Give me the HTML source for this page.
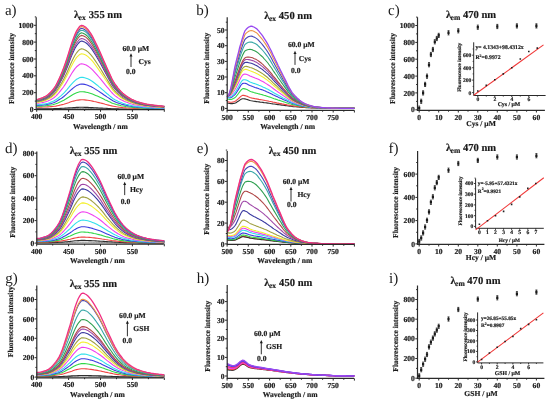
<!DOCTYPE html>
<html><head><meta charset="utf-8"><style>
html,body{margin:0;padding:0;background:#fff;width:550px;height:401px;overflow:hidden}
svg{display:block;will-change:transform}
text{text-rendering:geometricPrecision;font-family:"Liberation Serif", serif;fill:#1a1a1a;stroke:#1a1a1a;stroke-width:0.18px}
text.l{stroke:none}
</style></head><body>
<svg width="550" height="401" viewBox="0 0 550 401">
<rect width="550" height="401" fill="#fff"/>
<polyline points="36.7,109.1 38.3,109.1 39.9,109.1 41.5,109.1 43.1,109.1 44.7,109.1 46.3,109.1 47.9,109.1 49.5,109.1 51.1,109.1 52.7,109.1 54.2,109.1 55.8,109 57.4,109 59,109 60.6,108.9 62.2,108.9 63.8,108.9 65.4,108.8 67,108.8 68.6,108.7 70.2,108.6 71.8,108.6 73.4,108.5 75,108.5 76.6,108.5 78.2,108.4 79.8,108.4 81.4,108.4 83,108.4 84.6,108.4 86.1,108.4 87.7,108.5 89.3,108.5 90.9,108.5 92.5,108.6 94.1,108.6 95.7,108.6 97.3,108.7 98.9,108.7 100.5,108.8 102.1,108.8 103.7,108.9 105.3,108.9 106.9,109 108.5,109 110.1,109 111.7,109.1 113.3,109.1 114.9,109.2 116.5,109.2 118,109.2 119.6,109.2 121.2,109.3 122.8,109.3 124.4,109.3 126,109.3 127.6,109.3 129.2,109.3 130.8,109.4 132.4,109.4 134,109.4 135.6,109.4 137.2,109.4 138.8,109.4 140.4,109.4 142,109.4 143.6,109.4 145.2,109.4 146.8,109.4 148.4,109.4 149.9,109.4 151.5,109.4 153.1,109.4 154.7,109.4 156.3,109.4 157.9,109.4 159.5,109.4 161.1,109.4 162.7,109.5 164.3,109.5" fill="none" stroke="#707070" stroke-width="0.8" stroke-linejoin="round"/>
<polyline points="36.7,108.7 38.3,108.7 39.9,108.7 41.5,108.7 43.1,108.7 44.7,108.7 46.3,108.7 47.9,108.7 49.5,108.7 51.1,108.7 52.7,108.7 54.2,108.6 55.8,108.6 57.4,108.5 59,108.5 60.6,108.4 62.2,108.3 63.8,108.2 65.4,108.1 67,108 68.6,107.9 70.2,107.8 71.8,107.7 73.4,107.6 75,107.5 76.6,107.4 78.2,107.4 79.8,107.3 81.4,107.3 83,107.3 84.6,107.4 86.1,107.4 87.7,107.4 89.3,107.5 90.9,107.6 92.5,107.6 94.1,107.7 95.7,107.8 97.3,107.9 98.9,108 100.5,108.1 102.1,108.1 103.7,108.2 105.3,108.3 106.9,108.4 108.5,108.5 110.1,108.6 111.7,108.7 113.3,108.8 114.9,108.8 116.5,108.9 118,108.9 119.6,109 121.2,109 122.8,109.1 124.4,109.1 126,109.1 127.6,109.2 129.2,109.2 130.8,109.2 132.4,109.2 134,109.2 135.6,109.3 137.2,109.3 138.8,109.3 140.4,109.3 142,109.3 143.6,109.3 145.2,109.3 146.8,109.3 148.4,109.4 149.9,109.4 151.5,109.4 153.1,109.4 154.7,109.4 156.3,109.4 157.9,109.4 159.5,109.4 161.1,109.4 162.7,109.4 164.3,109.4" fill="none" stroke="#303030" stroke-width="1.1" stroke-linejoin="round"/>
<polyline points="36.7,107 38.3,107.1 39.9,107.1 41.5,107.1 43.1,107 44.7,107 46.3,107 47.9,106.9 49.5,106.8 51.1,106.6 52.7,106.5 54.2,106.3 55.8,106.1 57.4,105.7 59,105.4 60.6,105 62.2,104.6 63.8,104.2 65.4,103.7 67,103.2 68.6,102.7 70.2,102.1 71.8,101.6 73.4,101.1 75,100.7 76.6,100.3 78.2,100.1 79.8,99.9 81.4,99.8 83,99.8 84.6,99.9 86.1,100.1 87.7,100.3 89.3,100.5 90.9,100.8 92.5,101.1 94.1,101.5 95.7,101.8 97.3,102.2 98.9,102.6 100.5,103 102.1,103.4 103.7,103.8 105.3,104.3 106.9,104.7 108.5,105.1 110.1,105.5 111.7,105.9 113.3,106.2 114.9,106.5 116.5,106.8 118,107 119.6,107.2 121.2,107.4 122.8,107.6 124.4,107.7 126,107.9 127.6,108 129.2,108.1 130.8,108.2 132.4,108.3 134,108.4 135.6,108.5 137.2,108.6 138.8,108.6 140.4,108.7 142,108.7 143.6,108.8 145.2,108.8 146.8,108.8 148.4,108.9 149.9,108.9 151.5,108.9 153.1,109 154.7,109 156.3,109 157.9,109 159.5,109.1 161.1,109.1 162.7,109.1 164.3,109.1" fill="none" stroke="#F04444" stroke-width="1.1" stroke-linejoin="round"/>
<polyline points="36.7,106.2 38.3,106.2 39.9,106.2 41.5,106.1 43.1,106 44.7,105.9 46.3,105.7 47.9,105.5 49.5,105.3 51.1,105 52.7,104.7 54.2,104.3 55.8,103.8 57.4,103.2 59,102.5 60.6,101.8 62.2,101 63.8,100.2 65.4,99.3 67,98.3 68.6,97.3 70.2,96.2 71.8,95.2 73.4,94.3 75,93.4 76.6,92.8 78.2,92.3 79.8,91.8 81.4,91.7 83,91.7 84.6,91.9 86.1,92.2 87.7,92.5 89.3,93 90.9,93.5 92.5,94.1 94.1,94.7 95.7,95.4 97.3,96.1 98.9,96.8 100.5,97.6 102.1,98.3 103.7,99.1 105.3,99.9 106.9,100.6 108.5,101.4 110.1,102.1 111.7,102.9 113.3,103.5 114.9,104 116.5,104.5 118,104.9 119.6,105.3 121.2,105.7 122.8,106 124.4,106.3 126,106.6 127.6,106.8 129.2,107 130.8,107.2 132.4,107.4 134,107.5 135.6,107.7 137.2,107.8 138.8,107.9 140.4,108 142,108.1 143.6,108.2 145.2,108.3 146.8,108.3 148.4,108.4 149.9,108.5 151.5,108.5 153.1,108.5 154.7,108.6 156.3,108.6 157.9,108.7 159.5,108.7 161.1,108.7 162.7,108.8 164.3,108.8" fill="none" stroke="#30D848" stroke-width="1.1" stroke-linejoin="round"/>
<polyline points="36.7,105.4 38.3,105.4 39.9,105.3 41.5,105.2 43.1,105 44.7,104.8 46.3,104.6 47.9,104.3 49.5,103.9 51.1,103.5 52.7,103 54.2,102.4 55.8,101.7 57.4,100.8 59,99.8 60.6,98.8 62.2,97.7 63.8,96.5 65.4,95.1 67,93.7 68.6,92.2 70.2,90.7 71.8,89.2 73.4,87.9 75,86.6 76.6,85.6 78.2,84.9 79.8,84.3 81.4,84 83,84.1 84.6,84.4 86.1,84.8 87.7,85.3 89.3,85.9 90.9,86.6 92.5,87.4 94.1,88.4 95.7,89.4 97.3,90.4 98.9,91.4 100.5,92.5 102.1,93.5 103.7,94.7 105.3,95.8 106.9,96.9 108.5,97.9 110.1,99 111.7,100 113.3,101 114.9,101.7 116.5,102.4 118,103 119.6,103.6 121.2,104.1 122.8,104.5 124.4,104.9 126,105.3 127.6,105.6 129.2,106 130.8,106.2 132.4,106.5 134,106.7 135.6,106.9 137.2,107.1 138.8,107.3 140.4,107.4 142,107.5 143.6,107.7 145.2,107.8 146.8,107.9 148.4,107.9 149.9,108 151.5,108.1 153.1,108.2 154.7,108.2 156.3,108.3 157.9,108.3 159.5,108.4 161.1,108.4 162.7,108.5 164.3,108.5" fill="none" stroke="#3C3CE0" stroke-width="1.1" stroke-linejoin="round"/>
<polyline points="36.7,104.7 38.3,104.7 39.9,104.5 41.5,104.4 43.1,104.1 44.7,103.9 46.3,103.6 47.9,103.2 49.5,102.7 51.1,102.1 52.7,101.5 54.2,100.8 55.8,99.8 57.4,98.7 59,97.4 60.6,96.1 62.2,94.6 63.8,93.1 65.4,91.4 67,89.6 68.6,87.7 70.2,85.7 71.8,83.9 73.4,82.2 75,80.6 76.6,79.3 78.2,78.4 79.8,77.6 81.4,77.2 83,77.4 84.6,77.7 86.1,78.2 87.7,78.8 89.3,79.6 90.9,80.5 92.5,81.5 94.1,82.7 95.7,84 97.3,85.2 98.9,86.6 100.5,87.9 102.1,89.3 103.7,90.7 105.3,92.1 106.9,93.5 108.5,94.8 110.1,96.2 111.7,97.5 113.3,98.7 114.9,99.7 116.5,100.5 118,101.3 119.6,102 121.2,102.6 122.8,103.2 124.4,103.7 126,104.2 127.6,104.6 129.2,105 130.8,105.4 132.4,105.7 134,106 135.6,106.3 137.2,106.5 138.8,106.7 140.4,106.9 142,107 143.6,107.2 145.2,107.3 146.8,107.4 148.4,107.5 149.9,107.6 151.5,107.7 153.1,107.8 154.7,107.9 156.3,108 157.9,108 159.5,108.1 161.1,108.1 162.7,108.2 164.3,108.3" fill="none" stroke="#30E0EC" stroke-width="1.1" stroke-linejoin="round"/>
<polyline points="36.7,103.3 38.3,103.2 39.9,103 41.5,102.8 43.1,102.4 44.7,102 46.3,101.6 47.9,101 49.5,100.3 51.1,99.5 52.7,98.5 54.2,97.5 55.8,96.1 57.4,94.5 59,92.7 60.6,90.7 62.2,88.7 63.8,86.5 65.4,84.1 67,81.5 68.6,78.8 70.2,76 71.8,73.3 73.4,70.9 75,68.6 76.6,66.8 78.2,65.5 79.8,64.3 81.4,63.8 83,64 84.6,64.5 86.1,65.1 87.7,66 89.3,67.1 90.9,68.4 92.5,69.9 94.1,71.6 95.7,73.3 97.3,75.1 98.9,77 100.5,78.9 102.1,80.9 103.7,82.9 105.3,84.9 106.9,86.8 108.5,88.7 110.1,90.7 111.7,92.5 113.3,94.2 114.9,95.6 116.5,96.8 118,97.9 119.6,98.9 121.2,99.8 122.8,100.6 124.4,101.4 126,102 127.6,102.6 129.2,103.2 130.8,103.7 132.4,104.2 134,104.6 135.6,104.9 137.2,105.2 138.8,105.5 140.4,105.8 142,106 143.6,106.2 145.2,106.4 146.8,106.6 148.4,106.7 149.9,106.9 151.5,107 153.1,107.1 154.7,107.2 156.3,107.3 157.9,107.4 159.5,107.5 161.1,107.6 162.7,107.7 164.3,107.8" fill="none" stroke="#F040F0" stroke-width="1.1" stroke-linejoin="round"/>
<polyline points="36.7,102.3 38.3,102.2 39.9,101.9 41.5,101.5 43.1,101.1 44.7,100.7 46.3,100.1 47.9,99.3 49.5,98.5 51.1,97.5 52.7,96.3 54.2,95 55.8,93.3 57.4,91.3 59,89.1 60.6,86.7 62.2,84.2 63.8,81.6 65.4,78.6 67,75.5 68.6,72.2 70.2,68.6 71.8,65.4 73.4,62.4 75,59.7 76.6,57.4 78.2,55.8 79.8,54.4 81.4,53.8 83,54 84.6,54.6 86.1,55.3 87.7,56.4 89.3,57.8 90.9,59.4 92.5,61.2 94.1,63.2 95.7,65.4 97.3,67.6 98.9,69.9 100.5,72.2 102.1,74.6 103.7,77 105.3,79.5 106.9,81.8 108.5,84.1 110.1,86.5 111.7,88.8 113.3,90.8 114.9,92.5 116.5,94 118,95.3 119.6,96.5 121.2,97.7 122.8,98.7 124.4,99.6 126,100.4 127.6,101.1 129.2,101.8 130.8,102.4 132.4,103 134,103.5 135.6,103.9 137.2,104.3 138.8,104.7 140.4,105 142,105.3 143.6,105.5 145.2,105.8 146.8,106 148.4,106.1 149.9,106.3 151.5,106.5 153.1,106.6 154.7,106.7 156.3,106.9 157.9,107 159.5,107.1 161.1,107.2 162.7,107.3 164.3,107.4" fill="none" stroke="#F4F030" stroke-width="1.1" stroke-linejoin="round"/>
<polyline points="36.7,101.8 38.3,101.6 39.9,101.3 41.5,100.9 43.1,100.5 44.7,100 46.3,99.3 47.9,98.5 49.5,97.6 51.1,96.5 52.7,95.2 54.2,93.8 55.8,92 57.4,89.8 59,87.3 60.6,84.7 62.2,82 63.8,79.1 65.4,75.8 67,72.4 68.6,68.8 70.2,65 71.8,61.5 73.4,58.2 75,55.2 76.6,52.8 78.2,50.9 79.8,49.4 81.4,48.8 83,49 84.6,49.7 86.1,50.5 87.7,51.6 89.3,53.1 90.9,54.8 92.5,56.8 94.1,59.1 95.7,61.4 97.3,63.8 98.9,66.3 100.5,68.8 102.1,71.4 103.7,74.1 105.3,76.7 106.9,79.3 108.5,81.9 110.1,84.4 111.7,86.9 113.3,89.2 114.9,91 116.5,92.6 118,94 119.6,95.4 121.2,96.6 122.8,97.7 124.4,98.7 126,99.6 127.6,100.4 129.2,101.1 130.8,101.8 132.4,102.4 134,103 135.6,103.4 137.2,103.9 138.8,104.2 140.4,104.6 142,104.9 143.6,105.2 145.2,105.4 146.8,105.6 148.4,105.8 149.9,106 151.5,106.2 153.1,106.3 154.7,106.5 156.3,106.6 157.9,106.7 159.5,106.9 161.1,107 162.7,107.1 164.3,107.2" fill="none" stroke="#A0A040" stroke-width="1.1" stroke-linejoin="round"/>
<polyline points="36.7,101 38.3,100.8 39.9,100.5 41.5,100 43.1,99.5 44.7,98.9 46.3,98.2 47.9,97.2 49.5,96.2 51.1,94.9 52.7,93.5 54.2,91.9 55.8,89.8 57.4,87.3 59,84.6 60.6,81.6 62.2,78.6 63.8,75.3 65.4,71.6 67,67.8 68.6,63.7 70.2,59.4 71.8,55.4 73.4,51.7 75,48.3 76.6,45.6 78.2,43.5 79.8,41.8 81.4,41 83,41.4 84.6,42.1 86.1,43 87.7,44.3 89.3,46 90.9,47.9 92.5,50.1 94.1,52.7 95.7,55.3 97.3,58 98.9,60.8 100.5,63.6 102.1,66.6 103.7,69.6 105.3,72.6 106.9,75.5 108.5,78.4 110.1,81.3 111.7,84.1 113.3,86.6 114.9,88.6 116.5,90.4 118,92.1 119.6,93.6 121.2,95 122.8,96.2 124.4,97.3 126,98.3 127.6,99.2 129.2,100.1 130.8,100.8 132.4,101.5 134,102.1 135.6,102.7 137.2,103.1 138.8,103.6 140.4,103.9 142,104.3 143.6,104.6 145.2,104.9 146.8,105.2 148.4,105.4 149.9,105.6 151.5,105.8 153.1,105.9 154.7,106.1 156.3,106.3 157.9,106.4 159.5,106.5 161.1,106.7 162.7,106.8 164.3,106.9" fill="none" stroke="#3A3AA0" stroke-width="1.1" stroke-linejoin="round"/>
<polyline points="36.7,100.7 38.3,100.5 39.9,100.2 41.5,99.7 43.1,99.1 44.7,98.5 46.3,97.8 47.9,96.8 49.5,95.7 51.1,94.4 52.7,92.9 54.2,91.3 55.8,89.1 57.4,86.5 59,83.7 60.6,80.6 62.2,77.4 63.8,74 65.4,70.2 67,66.2 68.6,62 70.2,57.5 71.8,53.3 73.4,49.5 75,46 76.6,43.1 78.2,41 79.8,39.2 81.4,38.5 83,38.8 84.6,39.5 86.1,40.4 87.7,41.8 89.3,43.6 90.9,45.6 92.5,47.9 94.1,50.5 95.7,53.2 97.3,56 98.9,58.9 100.5,61.9 102.1,64.9 103.7,68.1 105.3,71.2 106.9,74.2 108.5,77.2 110.1,80.2 111.7,83.1 113.3,85.7 114.9,87.9 116.5,89.7 118,91.4 119.6,93 121.2,94.4 122.8,95.7 124.4,96.9 126,97.9 127.6,98.8 129.2,99.7 130.8,100.5 132.4,101.2 134,101.9 135.6,102.4 137.2,102.9 138.8,103.3 140.4,103.7 142,104.1 143.6,104.4 145.2,104.7 146.8,105 148.4,105.2 149.9,105.4 151.5,105.6 153.1,105.8 154.7,106 156.3,106.1 157.9,106.3 159.5,106.4 161.1,106.5 162.7,106.7 164.3,106.8" fill="none" stroke="#A048A8" stroke-width="1.1" stroke-linejoin="round"/>
<polyline points="36.7,100.4 38.3,100.2 39.9,99.8 41.5,99.3 43.1,98.8 44.7,98.1 46.3,97.3 47.9,96.3 49.5,95.1 51.1,93.8 52.7,92.3 54.2,90.5 55.8,88.2 57.4,85.6 59,82.6 60.6,79.4 62.2,76.1 63.8,72.5 65.4,68.5 67,64.3 68.6,59.9 70.2,55.2 71.8,50.9 73.4,46.9 75,43.2 76.6,40.3 78.2,38 79.8,36.2 81.4,35.4 83,35.7 84.6,36.5 86.1,37.4 87.7,38.8 89.3,40.7 90.9,42.8 92.5,45.2 94.1,47.9 95.7,50.8 97.3,53.7 98.9,56.7 100.5,59.8 102.1,63 103.7,66.3 105.3,69.5 106.9,72.7 108.5,75.8 110.1,78.9 111.7,81.9 113.3,84.7 114.9,86.9 116.5,88.8 118,90.6 119.6,92.3 121.2,93.8 122.8,95.1 124.4,96.3 126,97.4 127.6,98.4 129.2,99.3 130.8,100.1 132.4,100.9 134,101.5 135.6,102.1 137.2,102.6 138.8,103.1 140.4,103.5 142,103.9 143.6,104.2 145.2,104.5 146.8,104.8 148.4,105 149.9,105.3 151.5,105.5 153.1,105.7 154.7,105.8 156.3,106 157.9,106.1 159.5,106.3 161.1,106.4 162.7,106.6 164.3,106.7" fill="none" stroke="#B04848" stroke-width="1.1" stroke-linejoin="round"/>
<polyline points="36.7,100.2 38.3,99.9 39.9,99.6 41.5,99 43.1,98.4 44.7,97.8 46.3,96.9 47.9,95.9 49.5,94.7 51.1,93.3 52.7,91.7 54.2,89.9 55.8,87.6 57.4,84.8 59,81.7 60.6,78.4 62.2,75 63.8,71.3 65.4,67.1 67,62.8 68.6,58.2 70.2,53.4 71.8,48.9 73.4,44.8 75,41 76.6,37.9 78.2,35.6 79.8,33.7 81.4,32.8 83,33.2 84.6,34 86.1,35 87.7,36.4 89.3,38.4 90.9,40.5 92.5,43 94.1,45.8 95.7,48.8 97.3,51.8 98.9,54.9 100.5,58.1 102.1,61.4 103.7,64.8 105.3,68.2 106.9,71.4 108.5,74.6 110.1,77.9 111.7,81 113.3,83.8 114.9,86.1 116.5,88.1 118,90 119.6,91.7 121.2,93.2 122.8,94.6 124.4,95.9 126,97 127.6,98 129.2,98.9 130.8,99.8 132.4,100.6 134,101.3 135.6,101.9 137.2,102.4 138.8,102.9 140.4,103.3 142,103.7 143.6,104 145.2,104.4 146.8,104.6 148.4,104.9 149.9,105.1 151.5,105.3 153.1,105.5 154.7,105.7 156.3,105.9 157.9,106 159.5,106.2 161.1,106.3 162.7,106.5 164.3,106.6" fill="none" stroke="#30A050" stroke-width="1.1" stroke-linejoin="round"/>
<polyline points="36.7,99.9 38.3,99.7 39.9,99.3 41.5,98.7 43.1,98.1 44.7,97.4 46.3,96.5 47.9,95.5 49.5,94.2 51.1,92.7 52.7,91.1 54.2,89.2 55.8,86.8 57.4,83.9 59,80.7 60.6,77.3 62.2,73.8 63.8,69.9 65.4,65.7 67,61.2 68.6,56.5 70.2,51.4 71.8,46.8 73.4,42.6 75,38.6 76.6,35.4 78.2,33 79.8,31 81.4,30.2 83,30.5 84.6,31.3 86.1,32.4 87.7,33.9 89.3,35.9 90.9,38.1 92.5,40.7 94.1,43.6 95.7,46.6 97.3,49.8 98.9,53 100.5,56.3 102.1,59.7 103.7,63.2 105.3,66.7 106.9,70.1 108.5,73.4 110.1,76.8 111.7,80 113.3,82.9 114.9,85.3 116.5,87.4 118,89.3 119.6,91.1 121.2,92.7 122.8,94.1 124.4,95.4 126,96.6 127.6,97.6 129.2,98.6 130.8,99.4 132.4,100.2 134,101 135.6,101.6 137.2,102.1 138.8,102.6 140.4,103.1 142,103.5 143.6,103.8 145.2,104.2 146.8,104.5 148.4,104.7 149.9,105 151.5,105.2 153.1,105.4 154.7,105.6 156.3,105.7 157.9,105.9 159.5,106.1 161.1,106.2 162.7,106.4 164.3,106.5" fill="none" stroke="#3AA8A8" stroke-width="1.1" stroke-linejoin="round"/>
<polyline points="36.7,99.7 38.3,99.5 39.9,99.1 41.5,98.5 43.1,97.8 44.7,97.1 46.3,96.3 47.9,95.2 49.5,93.9 51.1,92.4 52.7,90.7 54.2,88.8 55.8,86.3 57.4,83.4 59,80.1 60.6,76.6 62.2,72.9 63.8,69 65.4,64.7 67,60.1 68.6,55.2 70.2,50.1 71.8,45.4 73.4,41 75,36.9 76.6,33.7 78.2,31.3 79.8,29.2 81.4,28.3 83,28.7 84.6,29.5 86.1,30.6 87.7,32.1 89.3,34.2 90.9,36.4 92.5,39 94.1,42.1 95.7,45.2 97.3,48.4 98.9,51.7 100.5,55.1 102.1,58.6 103.7,62.1 105.3,65.7 106.9,69.2 108.5,72.6 110.1,76 111.7,79.3 113.3,82.3 114.9,84.8 116.5,86.9 118,88.8 119.6,90.6 121.2,92.3 122.8,93.8 124.4,95.1 126,96.3 127.6,97.3 129.2,98.3 130.8,99.2 132.4,100 134,100.8 135.6,101.4 137.2,102 138.8,102.5 140.4,102.9 142,103.3 143.6,103.7 145.2,104.1 146.8,104.4 148.4,104.6 149.9,104.9 151.5,105.1 153.1,105.3 154.7,105.5 156.3,105.7 157.9,105.8 159.5,106 161.1,106.1 162.7,106.3 164.3,106.4" fill="none" stroke="#4848B8" stroke-width="1.1" stroke-linejoin="round"/>
<polyline points="36.7,99.5 38.3,99.3 39.9,98.9 41.5,98.3 43.1,97.6 44.7,96.9 46.3,96 47.9,94.9 49.5,93.5 51.1,92 52.7,90.3 54.2,88.3 55.8,85.8 57.4,82.8 59,79.4 60.6,75.9 62.2,72.2 63.8,68.2 65.4,63.7 67,59 68.6,54.1 70.2,48.8 71.8,44 73.4,39.5 75,35.4 76.6,32 78.2,29.6 79.8,27.5 81.4,26.6 83,26.9 84.6,27.8 86.1,28.9 87.7,30.4 89.3,32.5 90.9,34.9 92.5,37.5 94.1,40.6 95.7,43.8 97.3,47.1 98.9,50.5 100.5,53.9 102.1,57.5 103.7,61.1 105.3,64.8 106.9,68.3 108.5,71.8 110.1,75.3 111.7,78.7 113.3,81.7 114.9,84.2 116.5,86.4 118,88.4 119.6,90.2 121.2,91.9 122.8,93.4 124.4,94.8 126,96 127.6,97.1 129.2,98.1 130.8,99 132.4,99.8 134,100.6 135.6,101.2 137.2,101.8 138.8,102.3 140.4,102.8 142,103.2 143.6,103.6 145.2,103.9 146.8,104.2 148.4,104.5 149.9,104.8 151.5,105 153.1,105.2 154.7,105.4 156.3,105.6 157.9,105.7 159.5,105.9 161.1,106.1 162.7,106.2 164.3,106.3" fill="none" stroke="#EC9448" stroke-width="1.1" stroke-linejoin="round"/>
<polyline points="36.7,99.4 38.3,99.1 39.9,98.7 41.5,98.1 43.1,97.5 44.7,96.7 46.3,95.8 47.9,94.7 49.5,93.3 51.1,91.8 52.7,90 54.2,88 55.8,85.5 57.4,82.4 59,79 60.6,75.4 62.2,71.6 63.8,67.5 65.4,63 67,58.3 68.6,53.2 70.2,47.9 71.8,43 73.4,38.5 75,34.2 76.6,30.9 78.2,28.3 79.8,26.2 81.4,25.3 83,25.7 84.6,26.5 86.1,27.6 87.7,29.2 89.3,31.4 90.9,33.7 92.5,36.4 94.1,39.6 95.7,42.8 97.3,46.1 98.9,49.6 100.5,53.1 102.1,56.7 103.7,60.4 105.3,64.1 106.9,67.7 108.5,71.2 110.1,74.8 111.7,78.2 113.3,81.3 114.9,83.9 116.5,86 118,88.1 119.6,89.9 121.2,91.6 122.8,93.2 124.4,94.6 126,95.8 127.6,96.9 129.2,97.9 130.8,98.8 132.4,99.7 134,100.4 135.6,101.1 137.2,101.7 138.8,102.2 140.4,102.7 142,103.1 143.6,103.5 145.2,103.9 146.8,104.2 148.4,104.4 149.9,104.7 151.5,104.9 153.1,105.1 154.7,105.3 156.3,105.5 157.9,105.7 159.5,105.8 161.1,106 162.7,106.2 164.3,106.3" fill="none" stroke="#F03084" stroke-width="1.3" stroke-linejoin="round"/>
<path d="M36.2,17.3V109.6H164.2" fill="none" stroke="#2a2a2a" stroke-width="1.2"/>
<path d="M36.7,109.6v2.2M68.6,109.6v2.2M100.5,109.6v2.2M132.4,109.6v2.2M164.3,109.6v2.2M52.7,109.6v1.4M84.6,109.6v1.4M116.5,109.6v1.4M148.4,109.6v1.4M36.2,109.5h-2.2M36.2,92.7h-2.2M36.2,75.8h-2.2M36.2,59h-2.2M36.2,42.1h-2.2M36.2,25.3h-2.2M36.2,101.1h-1.4M36.2,84.2h-1.4M36.2,67.4h-1.4M36.2,50.6h-1.4M36.2,33.7h-1.4M36.2,16.9h-1.4" fill="none" stroke="#2a2a2a" stroke-width="1"/>
<text x="36.7" y="119.2" font-size="7.6" text-anchor="middle" font-weight="bold">400</text>
<text x="68.6" y="119.2" font-size="7.6" text-anchor="middle" font-weight="bold">450</text>
<text x="100.5" y="119.2" font-size="7.6" text-anchor="middle" font-weight="bold">500</text>
<text x="132.4" y="119.2" font-size="7.6" text-anchor="middle" font-weight="bold">550</text>
<text x="33.6" y="112.1" font-size="7.6" text-anchor="end" font-weight="bold">0</text>
<text x="33.6" y="95.2" font-size="7.6" text-anchor="end" font-weight="bold">200</text>
<text x="33.6" y="78.4" font-size="7.6" text-anchor="end" font-weight="bold">400</text>
<text x="33.6" y="61.6" font-size="7.6" text-anchor="end" font-weight="bold">600</text>
<text x="33.6" y="44.7" font-size="7.6" text-anchor="end" font-weight="bold">800</text>
<text x="33.6" y="27.9" font-size="7.6" text-anchor="end" font-weight="bold">1000</text>
<text transform="translate(13.6,103.9) rotate(-90)" font-size="7.5" text-anchor="start" font-weight="bold">Fluorescence intensity</text>
<text x="100.4" y="128.6" font-size="7.6" text-anchor="middle" font-weight="bold">Wavelength / nm</text>
<text x="74" y="17.8" font-size="10.6" font-weight="bold">&#955;<tspan x="78.6" y="19.8" font-size="7.6">ex</tspan><tspan x="88.8" y="17.8">355 nm</tspan></text>
<text class="l" x="4.9" y="14.9" font-size="15" font-weight="normal">a)</text>
<text x="122.5" y="51.3" font-size="7.6" text-anchor="start" font-weight="bold">60.0 &#956;M</text>
<path d="M131,67V55.8" stroke="#1a1a1a" stroke-width="0.9"/>
<path d="M129.5,56.5L131,53.3L132.5,56.5Z" fill="#1a1a1a"/>
<text x="138.6" y="64" font-size="7.6" text-anchor="start" font-weight="bold">Cys</text>
<text x="126" y="73.6" font-size="7.6" text-anchor="start" font-weight="bold">0.0</text>
<polyline points="227.1,103 228.4,103.3 229.6,103.5 230.9,103.6 232.2,103.6 233.5,103.4 234.7,103.2 236,102.7 237.3,101.8 238.6,101 239.8,100.1 241.1,99.2 242.4,98.7 243.7,98.7 244.9,98.9 246.2,99.2 247.5,99.6 248.7,100.1 250,100.5 251.3,100.8 252.6,101 253.8,101.2 255.1,101.4 256.4,101.6 257.7,101.8 258.9,101.9 260.2,102.1 261.5,102.2 262.8,102.4 264,102.6 265.3,102.7 266.6,102.9 267.9,103.1 269.1,103.3 270.4,103.5 271.7,103.7 272.9,103.9 274.2,104 275.5,104.2 276.8,104.4 278,104.6 279.3,104.8 280.6,104.9 281.9,105.1 283.1,105.3 284.4,105.5 285.7,105.6 287,105.8 288.2,106 289.5,106.1 290.8,106.3 292,106.4 293.3,106.6 294.6,106.7 295.9,106.8 297.1,106.9 298.4,107 299.7,107.1 301,107.3 302.2,107.4 303.5,107.5 304.8,107.5 306.1,107.6 307.3,107.7 308.6,107.8 309.9,107.8 311.2,107.9 312.4,107.9 313.7,108 315,108 316.2,108 317.5,108.1 318.8,108.1 320.1,108.1 321.3,108.2 322.6,108.2 323.9,108.2 325.2,108.2 326.4,108.2 327.7,108.3 329,108.3 330.3,108.3 331.5,108.3 332.8,108.3 334.1,108.3 335.3,108.3 336.6,108.3 337.9,108.3 339.2,108.4 340.4,108.4 341.7,108.4 343,108.4 344.3,108.4 345.5,108.4 346.8,108.4 348.1,108.4 349.4,108.4 350.6,108.4 351.9,108.4 353.2,108.4 354.4,108.4" fill="none" stroke="#303030" stroke-width="1.1" stroke-linejoin="round"/>
<polyline points="227.1,101.6 228.4,101.9 229.6,102.1 230.9,102.2 232.2,102.1 233.5,101.8 234.7,101.4 236,100.7 237.3,99.6 238.6,98.5 239.8,97.3 241.1,96.2 242.4,95.4 243.7,95.4 244.9,95.6 246.2,96 247.5,96.4 248.7,97 250,97.5 251.3,97.9 252.6,98.2 253.8,98.4 255.1,98.7 256.4,98.9 257.7,99.1 258.9,99.4 260.2,99.6 261.5,99.8 262.8,100 264,100.2 265.3,100.5 266.6,100.7 267.9,101 269.1,101.3 270.4,101.5 271.7,101.8 272.9,102.1 274.2,102.3 275.5,102.6 276.8,102.9 278,103.1 279.3,103.4 280.6,103.6 281.9,103.9 283.1,104.1 284.4,104.4 285.7,104.6 287,104.9 288.2,105.1 289.5,105.3 290.8,105.6 292,105.8 293.3,105.9 294.6,106.1 295.9,106.3 297.1,106.4 298.4,106.6 299.7,106.7 301,106.9 302.2,107 303.5,107.1 304.8,107.3 306.1,107.4 307.3,107.5 308.6,107.6 309.9,107.7 311.2,107.7 312.4,107.8 313.7,107.8 315,107.9 316.2,107.9 317.5,108 318.8,108 320.1,108 321.3,108.1 322.6,108.1 323.9,108.1 325.2,108.2 326.4,108.2 327.7,108.2 329,108.2 330.3,108.3 331.5,108.3 332.8,108.3 334.1,108.3 335.3,108.3 336.6,108.3 337.9,108.3 339.2,108.3 340.4,108.4 341.7,108.4 343,108.4 344.3,108.4 345.5,108.4 346.8,108.4 348.1,108.4 349.4,108.4 350.6,108.4 351.9,108.4 353.2,108.4 354.4,108.4" fill="none" stroke="#F04444" stroke-width="1.1" stroke-linejoin="round"/>
<polyline points="227.1,98.9 228.4,99.3 229.6,99.5 230.9,99.4 232.2,99.1 233.5,98.5 234.7,97.8 236,96.7 237.3,95 238.6,93.3 239.8,91.6 241.1,90 242.4,88.8 243.7,88.6 244.9,88.9 246.2,89.3 247.5,89.8 248.7,90.6 250,91.2 251.3,91.7 252.6,92.1 253.8,92.5 255.1,92.9 256.4,93.2 257.7,93.5 258.9,93.9 260.2,94.2 261.5,94.5 262.8,94.9 264,95.3 265.3,95.6 266.6,96.1 267.9,96.5 269.1,96.9 270.4,97.3 271.7,97.8 272.9,98.2 274.2,98.7 275.5,99.1 276.8,99.5 278,100 279.3,100.4 280.6,100.8 281.9,101.2 283.1,101.6 284.4,102 285.7,102.5 287,102.9 288.2,103.3 289.5,103.7 290.8,104 292,104.4 293.3,104.7 294.6,104.9 295.9,105.2 297.1,105.4 298.4,105.7 299.7,105.9 301,106.1 302.2,106.4 303.5,106.6 304.8,106.7 306.1,106.9 307.3,107.1 308.6,107.2 309.9,107.3 311.2,107.4 312.4,107.5 313.7,107.6 315,107.7 316.2,107.7 317.5,107.8 318.8,107.8 320.1,107.9 321.3,107.9 322.6,108 323.9,108 325.2,108.1 326.4,108.1 327.7,108.2 329,108.2 330.3,108.2 331.5,108.2 332.8,108.3 334.1,108.3 335.3,108.3 336.6,108.3 337.9,108.3 339.2,108.3 340.4,108.3 341.7,108.3 343,108.4 344.3,108.4 345.5,108.4 346.8,108.4 348.1,108.4 349.4,108.4 350.6,108.4 351.9,108.4 353.2,108.4 354.4,108.4" fill="none" stroke="#30D848" stroke-width="1.1" stroke-linejoin="round"/>
<polyline points="227.1,97.4 228.4,97.8 229.6,97.9 230.9,97.6 232.2,96.9 233.5,95.9 234.7,94.8 236,93.3 237.3,91.2 238.6,89.1 239.8,87.1 241.1,85 242.4,83.6 243.7,83.2 244.9,83.3 246.2,83.6 247.5,84.2 248.7,84.9 250,85.6 251.3,86.1 252.6,86.6 253.8,87 255.1,87.5 256.4,87.9 257.7,88.3 258.9,88.8 260.2,89.2 261.5,89.6 262.8,90.1 264,90.6 265.3,91.1 266.6,91.7 267.9,92.2 269.1,92.8 270.4,93.4 271.7,94 272.9,94.7 274.2,95.3 275.5,95.9 276.8,96.5 278,97.1 279.3,97.7 280.6,98.2 281.9,98.8 283.1,99.4 284.4,100 285.7,100.5 287,101.1 288.2,101.7 289.5,102.2 290.8,102.7 292,103.2 293.3,103.6 294.6,104 295.9,104.3 297.1,104.7 298.4,105 299.7,105.3 301,105.6 302.2,105.9 303.5,106.1 304.8,106.3 306.1,106.5 307.3,106.7 308.6,106.9 309.9,107.1 311.2,107.2 312.4,107.3 313.7,107.4 315,107.5 316.2,107.6 317.5,107.7 318.8,107.7 320.1,107.8 321.3,107.9 322.6,107.9 323.9,108 325.2,108 326.4,108.1 327.7,108.1 329,108.1 330.3,108.2 331.5,108.2 332.8,108.2 334.1,108.2 335.3,108.3 336.6,108.3 337.9,108.3 339.2,108.3 340.4,108.3 341.7,108.3 343,108.3 344.3,108.4 345.5,108.4 346.8,108.4 348.1,108.4 349.4,108.4 350.6,108.4 351.9,108.4 353.2,108.4 354.4,108.4" fill="none" stroke="#3C3CE0" stroke-width="1.1" stroke-linejoin="round"/>
<polyline points="227.1,96.9 228.4,97.2 229.6,97.1 230.9,96.6 232.2,95.6 233.5,94.3 234.7,92.9 236,91.2 237.3,88.8 238.6,86.5 239.8,84.2 241.1,82 242.4,80.3 243.7,79.7 244.9,79.7 246.2,80 247.5,80.5 248.7,81.3 250,81.9 251.3,82.4 252.6,82.9 253.8,83.4 255.1,83.8 256.4,84.3 257.7,84.8 258.9,85.3 260.2,85.8 261.5,86.3 262.8,86.9 264,87.4 265.3,88 266.6,88.7 267.9,89.3 269.1,90 270.4,90.8 271.7,91.5 272.9,92.2 274.2,93 275.5,93.7 276.8,94.4 278,95.1 279.3,95.8 280.6,96.5 281.9,97.2 283.1,97.9 284.4,98.6 285.7,99.3 287,100 288.2,100.6 289.5,101.3 290.8,101.9 292,102.4 293.3,102.9 294.6,103.4 295.9,103.8 297.1,104.2 298.4,104.5 299.7,104.9 301,105.2 302.2,105.6 303.5,105.8 304.8,106.1 306.1,106.3 307.3,106.6 308.6,106.7 309.9,106.9 311.2,107.1 312.4,107.2 313.7,107.3 315,107.4 316.2,107.5 317.5,107.6 318.8,107.7 320.1,107.7 321.3,107.8 322.6,107.9 323.9,107.9 325.2,108 326.4,108 327.7,108.1 329,108.1 330.3,108.2 331.5,108.2 332.8,108.2 334.1,108.2 335.3,108.2 336.6,108.3 337.9,108.3 339.2,108.3 340.4,108.3 341.7,108.3 343,108.3 344.3,108.4 345.5,108.4 346.8,108.4 348.1,108.4 349.4,108.4 350.6,108.4 351.9,108.4 353.2,108.4 354.4,108.4" fill="none" stroke="#30E0EC" stroke-width="1.1" stroke-linejoin="round"/>
<polyline points="227.1,96 228.4,96.2 229.6,96 230.9,95.1 232.2,93.6 233.5,91.8 234.7,90 236,87.8 237.3,85.1 238.6,82.4 239.8,79.8 241.1,77.2 242.4,75.2 243.7,74.3 244.9,74.1 246.2,74.2 247.5,74.7 248.7,75.3 250,76 251.3,76.4 252.6,76.9 253.8,77.4 255.1,78 256.4,78.5 257.7,79 258.9,79.6 260.2,80.3 261.5,80.9 262.8,81.6 264,82.3 265.3,83.1 266.6,83.9 267.9,84.7 269.1,85.5 270.4,86.4 271.7,87.4 272.9,88.3 274.2,89.3 275.5,90.2 276.8,91.1 278,92 279.3,92.9 280.6,93.8 281.9,94.6 283.1,95.5 284.4,96.4 285.7,97.3 287,98.1 288.2,99 289.5,99.8 290.8,100.6 292,101.3 293.3,101.9 294.6,102.4 295.9,102.9 297.1,103.4 298.4,103.9 299.7,104.3 301,104.7 302.2,105.1 303.5,105.4 304.8,105.8 306.1,106 307.3,106.3 308.6,106.5 309.9,106.7 311.2,106.9 312.4,107 313.7,107.2 315,107.3 316.2,107.4 317.5,107.5 318.8,107.6 320.1,107.7 321.3,107.7 322.6,107.8 323.9,107.9 325.2,107.9 326.4,108 327.7,108 329,108.1 330.3,108.1 331.5,108.2 332.8,108.2 334.1,108.2 335.3,108.2 336.6,108.3 337.9,108.3 339.2,108.3 340.4,108.3 341.7,108.3 343,108.3 344.3,108.3 345.5,108.4 346.8,108.4 348.1,108.4 349.4,108.4 350.6,108.4 351.9,108.4 353.2,108.4 354.4,108.4" fill="none" stroke="#F040F0" stroke-width="1.1" stroke-linejoin="round"/>
<polyline points="227.1,95.6 228.4,95.7 229.6,95.2 230.9,94 232.2,92.1 233.5,89.8 234.7,87.5 236,85 237.3,82 238.6,79 239.8,76.1 241.1,73.3 242.4,71.1 243.7,69.9 244.9,69.4 246.2,69.4 247.5,69.7 248.7,70.3 250,70.8 251.3,71.2 252.6,71.7 253.8,72.3 255.1,72.8 256.4,73.4 257.7,74 258.9,74.7 260.2,75.5 261.5,76.2 262.8,77 264,77.8 265.3,78.7 266.6,79.6 267.9,80.6 269.1,81.6 270.4,82.7 271.7,83.8 272.9,84.9 274.2,86 275.5,87.1 276.8,88.2 278,89.3 279.3,90.3 280.6,91.4 281.9,92.4 283.1,93.4 284.4,94.5 285.7,95.5 287,96.6 288.2,97.6 289.5,98.6 290.8,99.5 292,100.3 293.3,101 294.6,101.6 295.9,102.2 297.1,102.8 298.4,103.3 299.7,103.8 301,104.3 302.2,104.7 303.5,105.1 304.8,105.5 306.1,105.8 307.3,106.1 308.6,106.3 309.9,106.5 311.2,106.7 312.4,106.9 313.7,107.1 315,107.2 316.2,107.3 317.5,107.4 318.8,107.5 320.1,107.6 321.3,107.7 322.6,107.8 323.9,107.8 325.2,107.9 326.4,108 327.7,108 329,108.1 330.3,108.1 331.5,108.1 332.8,108.2 334.1,108.2 335.3,108.2 336.6,108.2 337.9,108.3 339.2,108.3 340.4,108.3 341.7,108.3 343,108.3 344.3,108.3 345.5,108.4 346.8,108.4 348.1,108.4 349.4,108.4 350.6,108.4 351.9,108.4 353.2,108.4 354.4,108.4" fill="none" stroke="#F4F030" stroke-width="1.1" stroke-linejoin="round"/>
<polyline points="227.1,95.7 228.4,95.7 229.6,95 230.9,93.5 232.2,91.3 233.5,88.6 234.7,86 236,83.3 237.3,80.1 238.6,77 239.8,73.9 241.1,71 242.4,68.6 243.7,67.2 244.9,66.5 246.2,66.4 247.5,66.6 248.7,67 250,67.5 251.3,67.8 252.6,68.3 253.8,68.8 255.1,69.4 256.4,70 257.7,70.7 258.9,71.4 260.2,72.2 261.5,73 262.8,73.9 264,74.8 265.3,75.8 266.6,76.8 267.9,77.8 269.1,79 270.4,80.1 271.7,81.4 272.9,82.6 274.2,83.8 275.5,85 276.8,86.2 278,87.4 279.3,88.6 280.6,89.8 281.9,91 283.1,92.1 284.4,93.2 285.7,94.4 287,95.6 288.2,96.7 289.5,97.8 290.8,98.8 292,99.7 293.3,100.5 294.6,101.2 295.9,101.8 297.1,102.4 298.4,103 299.7,103.6 301,104.1 302.2,104.5 303.5,105 304.8,105.3 306.1,105.7 307.3,105.9 308.6,106.2 309.9,106.5 311.2,106.7 312.4,106.9 313.7,107 315,107.2 316.2,107.3 317.5,107.4 318.8,107.5 320.1,107.6 321.3,107.7 322.6,107.8 323.9,107.8 325.2,107.9 326.4,108 327.7,108 329,108.1 330.3,108.1 331.5,108.1 332.8,108.2 334.1,108.2 335.3,108.2 336.6,108.2 337.9,108.3 339.2,108.3 340.4,108.3 341.7,108.3 343,108.3 344.3,108.3 345.5,108.4 346.8,108.4 348.1,108.4 349.4,108.4 350.6,108.4 351.9,108.4 353.2,108.4 354.4,108.4" fill="none" stroke="#A0A040" stroke-width="1.1" stroke-linejoin="round"/>
<polyline points="227.1,95.7 228.4,95.5 229.6,94.7 230.9,92.8 232.2,90.1 233.5,87 234.7,84 236,80.9 237.3,77.5 238.6,74.2 239.8,70.9 241.1,67.8 242.4,65.2 243.7,63.5 244.9,62.5 246.2,62.3 247.5,62.4 248.7,62.7 250,63 251.3,63.3 252.6,63.8 253.8,64.3 255.1,64.9 256.4,65.5 257.7,66.3 258.9,67.1 260.2,68 261.5,68.9 262.8,69.8 264,70.9 265.3,71.9 266.6,73.1 267.9,74.2 269.1,75.5 270.4,76.8 271.7,78.2 272.9,79.6 274.2,81 275.5,82.3 276.8,83.7 278,85 279.3,86.4 280.6,87.7 281.9,89 283.1,90.3 284.4,91.6 285.7,92.9 287,94.2 288.2,95.5 289.5,96.7 290.8,97.8 292,98.9 293.3,99.8 294.6,100.5 295.9,101.2 297.1,101.9 298.4,102.6 299.7,103.2 301,103.7 302.2,104.3 303.5,104.7 304.8,105.1 306.1,105.5 307.3,105.8 308.6,106.1 309.9,106.3 311.2,106.6 312.4,106.8 313.7,107 315,107.1 316.2,107.3 317.5,107.4 318.8,107.5 320.1,107.6 321.3,107.7 322.6,107.7 323.9,107.8 325.2,107.9 326.4,107.9 327.7,108 329,108 330.3,108.1 331.5,108.1 332.8,108.2 334.1,108.2 335.3,108.2 336.6,108.2 337.9,108.3 339.2,108.3 340.4,108.3 341.7,108.3 343,108.3 344.3,108.3 345.5,108.4 346.8,108.4 348.1,108.4 349.4,108.4 350.6,108.4 351.9,108.4 353.2,108.4 354.4,108.4" fill="none" stroke="#3A3AA0" stroke-width="1.1" stroke-linejoin="round"/>
<polyline points="227.1,96 228.4,95.7 229.6,94.6 230.9,92.5 232.2,89.4 233.5,86 234.7,82.6 236,79.4 237.3,75.8 238.6,72.3 239.8,69 241.1,65.8 242.4,63.1 243.7,61.1 244.9,59.9 246.2,59.5 247.5,59.5 248.7,59.6 250,59.9 251.3,60.2 252.6,60.6 253.8,61.1 255.1,61.7 256.4,62.3 257.7,63.1 258.9,64 260.2,64.9 261.5,65.9 262.8,66.9 264,68 265.3,69.2 266.6,70.4 267.9,71.6 269.1,73 270.4,74.4 271.7,75.9 272.9,77.4 274.2,78.9 275.5,80.4 276.8,81.9 278,83.3 279.3,84.8 280.6,86.2 281.9,87.7 283.1,89 284.4,90.4 285.7,91.9 287,93.3 288.2,94.7 289.5,96 290.8,97.2 292,98.3 293.3,99.3 294.6,100.1 295.9,100.9 297.1,101.6 298.4,102.3 299.7,102.9 301,103.5 302.2,104.1 303.5,104.6 304.8,105 306.1,105.4 307.3,105.7 308.6,106 309.9,106.3 311.2,106.5 312.4,106.7 313.7,106.9 315,107.1 316.2,107.2 317.5,107.4 318.8,107.5 320.1,107.6 321.3,107.6 322.6,107.7 323.9,107.8 325.2,107.9 326.4,107.9 327.7,108 329,108 330.3,108.1 331.5,108.1 332.8,108.2 334.1,108.2 335.3,108.2 336.6,108.2 337.9,108.3 339.2,108.3 340.4,108.3 341.7,108.3 343,108.3 344.3,108.3 345.5,108.4 346.8,108.4 348.1,108.4 349.4,108.4 350.6,108.4 351.9,108.4 353.2,108.4 354.4,108.4" fill="none" stroke="#A048A8" stroke-width="1.1" stroke-linejoin="round"/>
<polyline points="227.1,96.6 228.4,96.1 229.6,94.8 230.9,92.4 232.2,89 233.5,85.2 234.7,81.6 236,78.2 237.3,74.5 238.6,70.9 239.8,67.5 241.1,64.3 242.4,61.4 243.7,59.3 244.9,57.9 246.2,57.3 247.5,57.1 248.7,57.1 250,57.3 251.3,57.5 252.6,57.8 253.8,58.4 255.1,59 256.4,59.6 257.7,60.4 258.9,61.3 260.2,62.3 261.5,63.3 262.8,64.4 264,65.6 265.3,66.8 266.6,68.1 267.9,69.4 269.1,70.8 270.4,72.3 271.7,73.9 272.9,75.6 274.2,77.2 275.5,78.7 276.8,80.3 278,81.9 279.3,83.4 280.6,85 281.9,86.5 283.1,88 284.4,89.5 285.7,91 287,92.5 288.2,94 289.5,95.4 290.8,96.7 292,97.9 293.3,98.9 294.6,99.8 295.9,100.6 297.1,101.4 298.4,102.1 299.7,102.8 301,103.4 302.2,104 303.5,104.5 304.8,104.9 306.1,105.3 307.3,105.6 308.6,105.9 309.9,106.2 311.2,106.5 312.4,106.7 313.7,106.9 315,107.1 316.2,107.3 317.5,107.4 318.8,107.5 320.1,107.6 321.3,107.6 322.6,107.7 323.9,107.8 325.2,107.9 326.4,107.9 327.7,108 329,108 330.3,108.1 331.5,108.1 332.8,108.2 334.1,108.2 335.3,108.2 336.6,108.2 337.9,108.3 339.2,108.3 340.4,108.3 341.7,108.3 343,108.3 344.3,108.3 345.5,108.4 346.8,108.4 348.1,108.4 349.4,108.4 350.6,108.4 351.9,108.4 353.2,108.4 354.4,108.4" fill="none" stroke="#B04848" stroke-width="1.1" stroke-linejoin="round"/>
<polyline points="227.1,96.7 228.4,95.9 229.6,94.3 230.9,91.2 232.2,87.1 233.5,82.4 234.7,78 236,74.1 237.3,70 238.6,66.1 239.8,62.3 241.1,58.8 242.4,55.6 243.7,52.9 244.9,51 246.2,50.2 247.5,49.7 248.7,49.5 250,49.4 251.3,49.5 252.6,49.9 253.8,50.4 255.1,51 256.4,51.7 257.7,52.6 258.9,53.7 260.2,54.8 261.5,56 262.8,57.2 264,58.6 265.3,60 266.6,61.5 267.9,63 269.1,64.7 270.4,66.5 271.7,68.3 272.9,70.2 274.2,72.1 275.5,74 276.8,75.8 278,77.7 279.3,79.5 280.6,81.3 281.9,83.1 283.1,84.8 284.4,86.6 285.7,88.4 287,90.1 288.2,91.9 289.5,93.5 290.8,95.1 292,96.5 293.3,97.7 294.6,98.7 295.9,99.6 297.1,100.5 298.4,101.3 299.7,102.1 301,102.9 302.2,103.5 303.5,104.1 304.8,104.6 306.1,105 307.3,105.4 308.6,105.7 309.9,106 311.2,106.3 312.4,106.6 313.7,106.8 315,107 316.2,107.2 317.5,107.3 318.8,107.4 320.1,107.5 321.3,107.6 322.6,107.7 323.9,107.8 325.2,107.8 326.4,107.9 327.7,108 329,108 330.3,108.1 331.5,108.1 332.8,108.2 334.1,108.2 335.3,108.2 336.6,108.2 337.9,108.3 339.2,108.3 340.4,108.3 341.7,108.3 343,108.3 344.3,108.3 345.5,108.4 346.8,108.4 348.1,108.4 349.4,108.4 350.6,108.4 351.9,108.4 353.2,108.4 354.4,108.4" fill="none" stroke="#30A050" stroke-width="1.1" stroke-linejoin="round"/>
<polyline points="227.1,96.7 228.4,95.7 229.6,93.7 230.9,90.1 232.2,85.2 233.5,79.8 234.7,74.7 236,70.2 237.3,65.8 238.6,61.5 239.8,57.4 241.1,53.6 242.4,50 243.7,46.9 244.9,44.6 246.2,43.5 247.5,42.8 248.7,42.3 250,42.1 251.3,42.1 252.6,42.4 253.8,42.9 255.1,43.6 256.4,44.3 257.7,45.3 258.9,46.5 260.2,47.8 261.5,49.1 262.8,50.5 264,52 265.3,53.6 266.6,55.3 267.9,57 269.1,58.9 270.4,60.9 271.7,63.1 272.9,65.2 274.2,67.4 275.5,69.5 276.8,71.6 278,73.7 279.3,75.8 280.6,77.9 281.9,79.9 283.1,81.8 284.4,83.8 285.7,85.9 287,87.9 288.2,89.9 289.5,91.8 290.8,93.5 292,95.1 293.3,96.5 294.6,97.6 295.9,98.7 297.1,99.7 298.4,100.6 299.7,101.5 301,102.3 302.2,103 303.5,103.7 304.8,104.2 306.1,104.7 307.3,105.1 308.6,105.5 309.9,105.8 311.2,106.2 312.4,106.4 313.7,106.7 315,106.9 316.2,107.1 317.5,107.3 318.8,107.4 320.1,107.5 321.3,107.6 322.6,107.6 323.9,107.7 325.2,107.8 326.4,107.9 327.7,107.9 329,108 330.3,108.1 331.5,108.1 332.8,108.1 334.1,108.2 335.3,108.2 336.6,108.2 337.9,108.3 339.2,108.3 340.4,108.3 341.7,108.3 343,108.3 344.3,108.3 345.5,108.4 346.8,108.4 348.1,108.4 349.4,108.4 350.6,108.4 351.9,108.4 353.2,108.4 354.4,108.4" fill="none" stroke="#3AA8A8" stroke-width="1.1" stroke-linejoin="round"/>
<polyline points="227.1,97 228.4,95.7 229.6,93.4 230.9,89.3 232.2,83.8 233.5,77.7 234.7,72.1 236,67.2 237.3,62.5 238.6,58 239.8,53.6 241.1,49.7 242.4,45.8 243.7,42.2 244.9,39.5 246.2,38.2 247.5,37.3 248.7,36.6 250,36.2 251.3,36.1 252.6,36.4 253.8,36.9 255.1,37.6 256.4,38.4 257.7,39.4 258.9,40.7 260.2,42.1 261.5,43.5 262.8,45.1 264,46.7 265.3,48.5 266.6,50.3 267.9,52.2 269.1,54.3 270.4,56.5 271.7,58.8 272.9,61.2 274.2,63.6 275.5,65.9 276.8,68.2 278,70.5 279.3,72.8 280.6,75.1 281.9,77.3 283.1,79.5 284.4,81.7 285.7,83.9 287,86.1 288.2,88.3 289.5,90.4 290.8,92.3 292,94.1 293.3,95.5 294.6,96.8 295.9,97.9 297.1,99.1 298.4,100.1 299.7,101 301,101.9 302.2,102.7 303.5,103.4 304.8,104 306.1,104.5 307.3,104.9 308.6,105.3 309.9,105.7 311.2,106 312.4,106.4 313.7,106.6 315,106.9 316.2,107.1 317.5,107.2 318.8,107.3 320.1,107.4 321.3,107.5 322.6,107.6 323.9,107.7 325.2,107.8 326.4,107.9 327.7,107.9 329,108 330.3,108 331.5,108.1 332.8,108.1 334.1,108.2 335.3,108.2 336.6,108.2 337.9,108.3 339.2,108.3 340.4,108.3 341.7,108.3 343,108.3 344.3,108.3 345.5,108.4 346.8,108.4 348.1,108.4 349.4,108.4 350.6,108.4 351.9,108.4 353.2,108.4 354.4,108.4" fill="none" stroke="#4848B8" stroke-width="1.1" stroke-linejoin="round"/>
<polyline points="227.1,97.1 228.4,95.6 229.6,93.1 230.9,88.5 232.2,82.4 233.5,75.8 234.7,69.6 236,64.4 237.3,59.3 238.6,54.5 239.8,50 241.1,45.8 242.4,41.7 243.7,37.7 244.9,34.7 246.2,33.2 247.5,32.1 248.7,31.2 250,30.7 251.3,30.5 252.6,30.7 253.8,31.2 255.1,32 256.4,32.7 257.7,33.9 258.9,35.3 260.2,36.8 261.5,38.3 262.8,40 264,41.8 265.3,43.6 266.6,45.6 267.9,47.7 269.1,49.9 270.4,52.3 271.7,54.8 272.9,57.4 274.2,60 275.5,62.5 276.8,65 278,67.5 279.3,70 280.6,72.5 281.9,74.9 283.1,77.2 284.4,79.6 285.7,82 287,84.5 288.2,86.8 289.5,89.1 290.8,91.2 292,93 293.3,94.6 294.6,96 295.9,97.3 297.1,98.4 298.4,99.6 299.7,100.6 301,101.5 302.2,102.4 303.5,103.1 304.8,103.7 306.1,104.2 307.3,104.7 308.6,105.1 309.9,105.6 311.2,105.9 312.4,106.3 313.7,106.6 315,106.8 316.2,107 317.5,107.2 318.8,107.3 320.1,107.4 321.3,107.5 322.6,107.6 323.9,107.7 325.2,107.8 326.4,107.8 327.7,107.9 329,108 330.3,108 331.5,108.1 332.8,108.1 334.1,108.2 335.3,108.2 336.6,108.2 337.9,108.2 339.2,108.3 340.4,108.3 341.7,108.3 343,108.3 344.3,108.3 345.5,108.3 346.8,108.4 348.1,108.4 349.4,108.4 350.6,108.4 351.9,108.4 353.2,108.4 354.4,108.4" fill="none" stroke="#EC9448" stroke-width="1.1" stroke-linejoin="round"/>
<polyline points="227.1,96.9 228.4,95.3 229.6,92.5 230.9,87.7 232.2,81.2 233.5,74.1 234.7,67.6 236,62.1 237.3,56.8 238.6,51.8 239.8,47 241.1,42.7 242.4,38.3 243.7,34.1 244.9,30.9 246.2,29.3 247.5,28.1 248.7,27.1 250,26.5 251.3,26.2 252.6,26.5 253.8,27 255.1,27.8 256.4,28.6 257.7,29.8 258.9,31.2 260.2,32.8 261.5,34.4 262.8,36.2 264,38.1 265.3,40.1 266.6,42.1 267.9,44.3 269.1,46.7 270.4,49.2 271.7,51.9 272.9,54.6 274.2,57.3 275.5,60 276.8,62.6 278,65.3 279.3,67.9 280.6,70.5 281.9,73.1 283.1,75.5 284.4,78.1 285.7,80.6 287,83.2 288.2,85.7 289.5,88.1 290.8,90.3 292,92.3 293.3,93.9 294.6,95.4 295.9,96.7 297.1,97.9 298.4,99.1 299.7,100.2 301,101.2 302.2,102.1 303.5,102.9 304.8,103.5 306.1,104 307.3,104.5 308.6,105 309.9,105.4 311.2,105.8 312.4,106.2 313.7,106.5 315,106.7 316.2,107 317.5,107.1 318.8,107.2 320.1,107.4 321.3,107.5 322.6,107.6 323.9,107.7 325.2,107.7 326.4,107.8 327.7,107.9 329,108 330.3,108 331.5,108.1 332.8,108.1 334.1,108.2 335.3,108.2 336.6,108.2 337.9,108.2 339.2,108.3 340.4,108.3 341.7,108.3 343,108.3 344.3,108.3 345.5,108.3 346.8,108.4 348.1,108.4 349.4,108.4 350.6,108.4 351.9,108.4 353.2,108.4 354.4,108.4" fill="none" stroke="#9848F0" stroke-width="1.3" stroke-linejoin="round"/>
<path d="M227.2,17.3V110.3H354.3" fill="none" stroke="#2a2a2a" stroke-width="1.2"/>
<path d="M227.1,110.3v2.2M248.3,110.3v2.2M269.6,110.3v2.2M290.8,110.3v2.2M312,110.3v2.2M333.2,110.3v2.2M354.4,110.3v2.2M237.7,110.3v1.4M258.9,110.3v1.4M280.2,110.3v1.4M301.4,110.3v1.4M322.6,110.3v1.4M343.8,110.3v1.4M227.2,108.4h-2.2M227.2,92.7h-2.2M227.2,77h-2.2M227.2,61.4h-2.2M227.2,45.7h-2.2M227.2,30h-2.2M227.2,100.6h-1.4M227.2,84.9h-1.4M227.2,69.2h-1.4M227.2,53.5h-1.4M227.2,37.8h-1.4M227.2,22.2h-1.4" fill="none" stroke="#2a2a2a" stroke-width="1"/>
<text x="227.1" y="119.9" font-size="7.6" text-anchor="middle" font-weight="bold">500</text>
<text x="248.3" y="119.9" font-size="7.6" text-anchor="middle" font-weight="bold">550</text>
<text x="269.6" y="119.9" font-size="7.6" text-anchor="middle" font-weight="bold">600</text>
<text x="290.8" y="119.9" font-size="7.6" text-anchor="middle" font-weight="bold">650</text>
<text x="312" y="119.9" font-size="7.6" text-anchor="middle" font-weight="bold">700</text>
<text x="333.2" y="119.9" font-size="7.6" text-anchor="middle" font-weight="bold">750</text>
<text x="224.6" y="111" font-size="7.6" text-anchor="end" font-weight="bold">0</text>
<text x="224.6" y="95.3" font-size="7.6" text-anchor="end" font-weight="bold">10</text>
<text x="224.6" y="79.6" font-size="7.6" text-anchor="end" font-weight="bold">20</text>
<text x="224.6" y="63.9" font-size="7.6" text-anchor="end" font-weight="bold">30</text>
<text x="224.6" y="48.3" font-size="7.6" text-anchor="end" font-weight="bold">40</text>
<text x="224.6" y="32.6" font-size="7.6" text-anchor="end" font-weight="bold">50</text>
<text transform="translate(209,103.7) rotate(-90)" font-size="7.5" text-anchor="start" font-weight="bold">Fluorescence intensity</text>
<text x="287.6" y="129.1" font-size="7.6" text-anchor="middle" font-weight="bold">Wavelength / nm</text>
<text x="264.3" y="19" font-size="10.6" font-weight="bold">&#955;<tspan x="268.9" y="21" font-size="7.6">ex</tspan><tspan x="278.8" y="19">450 nm</tspan></text>
<text class="l" x="196.3" y="14.9" font-size="15" font-weight="normal">b)</text>
<text x="288" y="47.1" font-size="7.6" text-anchor="start" font-weight="bold">60.0 &#956;M</text>
<path d="M295,64.9V53.3" stroke="#1a1a1a" stroke-width="0.9"/>
<path d="M293.5,54L295,50.8L296.5,54Z" fill="#1a1a1a"/>
<text x="298.7" y="60.6" font-size="7.6" text-anchor="start" font-weight="bold">Cys</text>
<text x="291" y="72.7" font-size="7.6" text-anchor="start" font-weight="bold">0.0</text>
<path d="M418.1,106.9h2.2v2.6h-2.2zM420.1,100h2.2v2.6h-2.2zM422,91.6h2.2v2.6h-2.2zM424,83.1h2.2v2.6h-2.2zM425.9,74.9h2.2v2.6h-2.2zM427.9,63.4h2.2v2.6h-2.2zM429.8,53.2h2.2v2.6h-2.2zM431.8,48.2h2.2v2.6h-2.2zM433.7,40.5h2.2v2.6h-2.2zM435.7,37.2h2.2v2.6h-2.2zM437.6,34.1h2.2v2.6h-2.2zM447.4,31.5h2.2v2.6h-2.2zM457.2,29.5h2.2v2.6h-2.2zM476.7,25.9h2.2v2.6h-2.2zM496.2,25.2h2.2v2.6h-2.2zM515.8,24.6h2.2v2.6h-2.2zM535.3,24.6h2.2v2.6h-2.2z" fill="#1a1a1a"/>
<path d="M419.2,106.1V110.3M418.2,106.1h2M418.2,110.3h2M421.2,99.2V103.4M420.2,99.2h2M420.2,103.4h2M423.1,90.8V95M422.1,90.8h2M422.1,95h2M425.1,82.3V86.5M424.1,82.3h2M424.1,86.5h2M427,74.1V78.3M426,74.1h2M426,78.3h2M429,62.6V66.8M428,62.6h2M428,66.8h2M430.9,52.4V56.6M429.9,52.4h2M429.9,56.6h2M432.9,47.4V51.6M431.9,47.4h2M431.9,51.6h2M434.8,39.7V43.9M433.8,39.7h2M433.8,43.9h2M436.8,36.4V40.6M435.8,36.4h2M435.8,40.6h2M438.7,33.3V37.5M437.7,33.3h2M437.7,37.5h2M448.5,30.7V34.9M447.5,30.7h2M447.5,34.9h2M458.3,28.7V32.9M457.3,28.7h2M457.3,32.9h2M477.8,25.1V29.3M476.8,25.1h2M476.8,29.3h2M497.3,24.4V28.6M496.3,24.4h2M496.3,28.6h2M516.9,23.8V28M515.9,23.8h2M515.9,28h2M536.4,23.8V28M535.4,23.8h2M535.4,28h2" stroke="#1a1a1a" stroke-width="0.8" fill="none"/>
<path d="M417.5,17.3V110.3H544.9" fill="none" stroke="#2a2a2a" stroke-width="1.2"/>
<path d="M419.2,110.3v2.2M438.7,110.3v2.2M458.3,110.3v2.2M477.8,110.3v2.2M497.3,110.3v2.2M516.9,110.3v2.2M536.4,110.3v2.2M429,110.3v1.4M448.5,110.3v1.4M468,110.3v1.4M487.6,110.3v1.4M507.1,110.3v1.4M526.6,110.3v1.4M417.5,109.8h-2.2M417.5,92.9h-2.2M417.5,76.1h-2.2M417.5,59.2h-2.2M417.5,42.4h-2.2M417.5,25.5h-2.2M417.5,101.4h-1.4M417.5,84.5h-1.4M417.5,67.7h-1.4M417.5,50.8h-1.4M417.5,33.9h-1.4M417.5,17.1h-1.4" fill="none" stroke="#2a2a2a" stroke-width="1"/>
<text x="419.2" y="119.9" font-size="7.6" text-anchor="middle" font-weight="bold">0</text>
<text x="438.7" y="119.9" font-size="7.6" text-anchor="middle" font-weight="bold">10</text>
<text x="458.3" y="119.9" font-size="7.6" text-anchor="middle" font-weight="bold">20</text>
<text x="477.8" y="119.9" font-size="7.6" text-anchor="middle" font-weight="bold">30</text>
<text x="497.3" y="119.9" font-size="7.6" text-anchor="middle" font-weight="bold">40</text>
<text x="516.9" y="119.9" font-size="7.6" text-anchor="middle" font-weight="bold">50</text>
<text x="536.4" y="119.9" font-size="7.6" text-anchor="middle" font-weight="bold">60</text>
<text x="414.9" y="112.4" font-size="7.6" text-anchor="end" font-weight="bold">0</text>
<text x="414.9" y="95.5" font-size="7.6" text-anchor="end" font-weight="bold">200</text>
<text x="414.9" y="78.7" font-size="7.6" text-anchor="end" font-weight="bold">400</text>
<text x="414.9" y="61.8" font-size="7.6" text-anchor="end" font-weight="bold">600</text>
<text x="414.9" y="44.9" font-size="7.6" text-anchor="end" font-weight="bold">800</text>
<text x="414.9" y="28.1" font-size="7.6" text-anchor="end" font-weight="bold">1000</text>
<text transform="translate(395,103.9) rotate(-90)" font-size="7.5" text-anchor="start" font-weight="bold">Fluorescence intensity</text>
<text x="481" y="126.3" font-size="7.6" text-anchor="middle" font-weight="bold">Cys / &#956;M</text>
<text x="446" y="17.6" font-size="10.6" font-weight="bold">&#955;<tspan x="450.6" y="19.6" font-size="7.6">em</tspan><tspan x="462.9" y="17.6">470 nm</tspan></text>
<text class="l" x="388.1" y="15" font-size="15" font-weight="normal">c)</text>
<path d="M473.7,42.3V95.5H545.6" fill="none" stroke="#2a2a2a" stroke-width="1.0"/>
<path d="M477.8,95.5v1.5M494.8,95.5v1.5M511.8,95.5v1.5M528.8,95.5v1.5M486.3,95.5v1.0M503.3,95.5v1.0M520.3,95.5v1.0M537.3,95.5v1.0M473.7,92.6h-1.5M473.7,80.1h-1.5M473.7,67.7h-1.5M473.7,55.2h-1.5M473.7,86.4h-1.0M473.7,73.9h-1.0M473.7,61.4h-1.0M473.7,49h-1.0" fill="none" stroke="#2a2a2a" stroke-width="1"/>
<text x="477.8" y="101.4" font-size="5.6" text-anchor="middle" font-weight="bold">0</text>
<text x="494.8" y="101.4" font-size="5.6" text-anchor="middle" font-weight="bold">2</text>
<text x="511.8" y="101.4" font-size="5.6" text-anchor="middle" font-weight="bold">4</text>
<text x="528.8" y="101.4" font-size="5.6" text-anchor="middle" font-weight="bold">6</text>
<text x="471.4" y="94.5" font-size="5.6" text-anchor="end" font-weight="bold">0</text>
<text x="471.4" y="82" font-size="5.6" text-anchor="end" font-weight="bold">200</text>
<text x="471.4" y="69.6" font-size="5.6" text-anchor="end" font-weight="bold">400</text>
<text x="471.4" y="57.1" font-size="5.6" text-anchor="end" font-weight="bold">600</text>
<path d="M473.7,95.3L543.5,44.9" stroke="#F03838" stroke-width="1.1"/>
<path d="M477,90.2h1.6v1.6h-1.6zM485.5,84.6h1.6v1.6h-1.6zM494,79h1.6v1.6h-1.6zM502.5,73.1h1.6v1.6h-1.6zM511,66.9h1.6v1.6h-1.6zM519.5,58.2h1.6v1.6h-1.6zM528,50.7h1.6v1.6h-1.6zM536.5,47.3h1.6v1.6h-1.6z" fill="#222"/>
<text x="475.4" y="48.9" font-size="5.75" text-anchor="start" font-weight="bold">y= 4.1343+98.4312x</text>
<text x="475.4" y="58.8" font-size="5.75" text-anchor="start" font-weight="bold">R<tspan font-size="3.8" dy="-2.2">2</tspan><tspan dy="2.2">=0.9972</tspan></text>
<text x="509" y="106.3" font-size="5.8" text-anchor="middle" font-weight="bold">Cys / &#956;M</text>
<text transform="translate(460.9,67.3) rotate(-90)" font-size="5.2" text-anchor="middle" font-weight="bold">Fluorescence intensity</text>
<polyline points="36.7,242.9 38.3,242.9 39.9,242.9 41.5,242.9 43.1,242.9 44.7,242.9 46.3,242.9 47.9,242.9 49.5,242.9 51.1,242.9 52.7,242.9 54.2,242.9 55.8,242.9 57.4,242.8 59,242.8 60.6,242.8 62.2,242.7 63.8,242.7 65.4,242.7 67,242.6 68.6,242.5 70.2,242.5 71.8,242.4 73.4,242.4 75,242.3 76.6,242.3 78.2,242.2 79.8,242.2 81.4,242.2 83,242.2 84.6,242.2 86.1,242.2 87.7,242.2 89.3,242.2 90.9,242.2 92.5,242.3 94.1,242.3 95.7,242.3 97.3,242.4 98.9,242.4 100.5,242.4 102.1,242.5 103.7,242.5 105.3,242.5 106.9,242.6 108.5,242.6 110.1,242.7 111.7,242.7 113.3,242.7 114.9,242.8 116.5,242.8 118,242.8 119.6,242.8 121.2,242.9 122.8,242.9 124.4,242.9 126,242.9 127.6,242.9 129.2,243 130.8,243 132.4,243 134,243 135.6,243 137.2,243 138.8,243 140.4,243 142,243 143.6,243 145.2,243 146.8,243 148.4,243 149.9,243.1 151.5,243.1 153.1,243.1 154.7,243.1 156.3,243.1 157.9,243.1 159.5,243.1 161.1,243.1 162.7,243.1 164.3,243.1" fill="none" stroke="#707070" stroke-width="0.8" stroke-linejoin="round"/>
<polyline points="36.7,242.6 38.3,242.6 39.9,242.6 41.5,242.6 43.1,242.6 44.7,242.6 46.3,242.6 47.9,242.6 49.5,242.6 51.1,242.6 52.7,242.5 54.2,242.5 55.8,242.4 57.4,242.4 59,242.3 60.6,242.2 62.2,242.1 63.8,242 65.4,241.8 67,241.7 68.6,241.5 70.2,241.4 71.8,241.2 73.4,241 75,240.8 76.6,240.7 78.2,240.6 79.8,240.5 81.4,240.4 83,240.4 84.6,240.4 86.1,240.5 87.7,240.5 89.3,240.6 90.9,240.6 92.5,240.7 94.1,240.8 95.7,240.9 97.3,241 98.9,241.1 100.5,241.2 102.1,241.3 103.7,241.4 105.3,241.5 106.9,241.6 108.5,241.7 110.1,241.8 111.7,241.9 113.3,242 114.9,242.1 116.5,242.2 118,242.3 119.6,242.4 121.2,242.4 122.8,242.5 124.4,242.6 126,242.6 127.6,242.7 129.2,242.7 130.8,242.7 132.4,242.8 134,242.8 135.6,242.8 137.2,242.8 138.8,242.9 140.4,242.9 142,242.9 143.6,242.9 145.2,242.9 146.8,242.9 148.4,243 149.9,243 151.5,243 153.1,243 154.7,243 156.3,243 157.9,243 159.5,243 161.1,243 162.7,243 164.3,243" fill="none" stroke="#303030" stroke-width="1.1" stroke-linejoin="round"/>
<polyline points="36.7,242.1 38.3,242.1 39.9,242.1 41.5,242.1 43.1,242.1 44.7,242.1 46.3,242.1 47.9,242.1 49.5,242 51.1,241.9 52.7,241.8 54.2,241.7 55.8,241.6 57.4,241.5 59,241.3 60.6,241.1 62.2,240.8 63.8,240.5 65.4,240.2 67,239.9 68.6,239.5 70.2,239.2 71.8,238.8 73.4,238.4 75,238 76.6,237.7 78.2,237.4 79.8,237.2 81.4,237.1 83,237.1 84.6,237.1 86.1,237.2 87.7,237.3 89.3,237.4 90.9,237.5 92.5,237.7 94.1,237.9 95.7,238.1 97.3,238.3 98.9,238.5 100.5,238.7 102.1,239 103.7,239.2 105.3,239.5 106.9,239.7 108.5,240 110.1,240.2 111.7,240.5 113.3,240.7 114.9,240.9 116.5,241.1 118,241.3 119.6,241.4 121.2,241.6 122.8,241.7 124.4,241.9 126,242 127.6,242.1 129.2,242.2 130.8,242.3 132.4,242.3 134,242.4 135.6,242.5 137.2,242.5 138.8,242.6 140.4,242.6 142,242.6 143.6,242.7 145.2,242.7 146.8,242.7 148.4,242.8 149.9,242.8 151.5,242.8 153.1,242.8 154.7,242.8 156.3,242.9 157.9,242.9 159.5,242.9 161.1,242.9 162.7,242.9 164.3,242.9" fill="none" stroke="#F04444" stroke-width="1.1" stroke-linejoin="round"/>
<polyline points="36.7,241.7 38.3,241.7 39.9,241.7 41.5,241.7 43.1,241.7 44.7,241.7 46.3,241.6 47.9,241.6 49.5,241.5 51.1,241.3 52.7,241.1 54.2,240.9 55.8,240.7 57.4,240.4 59,240.1 60.6,239.7 62.2,239.2 63.8,238.6 65.4,238 67,237.3 68.6,236.6 70.2,236 71.8,235.2 73.4,234.4 75,233.8 76.6,233.2 78.2,232.7 79.8,232.3 81.4,232 83,232 84.6,232.1 86.1,232.2 87.7,232.3 89.3,232.6 90.9,232.8 92.5,233.1 94.1,233.5 95.7,233.8 97.3,234.2 98.9,234.6 100.5,235 102.1,235.4 103.7,235.9 105.3,236.4 106.9,236.9 108.5,237.3 110.1,237.8 111.7,238.2 113.3,238.7 114.9,239.1 116.5,239.4 118,239.8 119.6,240.1 121.2,240.4 122.8,240.6 124.4,240.9 126,241.1 127.6,241.3 129.2,241.4 130.8,241.6 132.4,241.7 134,241.8 135.6,241.9 137.2,242 138.8,242.1 140.4,242.2 142,242.3 143.6,242.3 145.2,242.4 146.8,242.5 148.4,242.5 149.9,242.5 151.5,242.6 153.1,242.6 154.7,242.6 156.3,242.7 157.9,242.7 159.5,242.7 161.1,242.7 162.7,242.8 164.3,242.8" fill="none" stroke="#30D848" stroke-width="1.1" stroke-linejoin="round"/>
<polyline points="36.7,241.5 38.3,241.5 39.9,241.5 41.5,241.5 43.1,241.4 44.7,241.3 46.3,241.3 47.9,241.1 49.5,241 51.1,240.7 52.7,240.4 54.2,240.1 55.8,239.7 57.4,239.3 59,238.9 60.6,238.2 62.2,237.5 63.8,236.6 65.4,235.7 67,234.7 68.6,233.7 70.2,232.7 71.8,231.6 73.4,230.4 75,229.4 76.6,228.5 78.2,227.8 79.8,227.2 81.4,226.8 83,226.7 84.6,226.8 86.1,227 87.7,227.2 89.3,227.6 90.9,228 92.5,228.4 94.1,228.9 95.7,229.4 97.3,229.9 98.9,230.5 100.5,231.1 102.1,231.8 103.7,232.5 105.3,233.2 106.9,233.9 108.5,234.6 110.1,235.3 111.7,235.9 113.3,236.6 114.9,237.2 116.5,237.7 118,238.2 119.6,238.6 121.2,239.1 122.8,239.5 124.4,239.8 126,240.1 127.6,240.4 129.2,240.6 130.8,240.9 132.4,241.1 134,241.2 135.6,241.4 137.2,241.6 138.8,241.7 140.4,241.8 142,241.9 143.6,242 145.2,242.1 146.8,242.2 148.4,242.2 149.9,242.3 151.5,242.3 153.1,242.4 154.7,242.4 156.3,242.5 157.9,242.5 159.5,242.5 161.1,242.6 162.7,242.6 164.3,242.7" fill="none" stroke="#3C3CE0" stroke-width="1.1" stroke-linejoin="round"/>
<polyline points="36.7,241.2 38.3,241.2 39.9,241.2 41.5,241.1 43.1,241 44.7,240.9 46.3,240.8 47.9,240.6 49.5,240.3 51.1,240 52.7,239.6 54.2,239.1 55.8,238.6 57.4,238 59,237.3 60.6,236.4 62.2,235.3 63.8,234.1 65.4,232.8 67,231.4 68.6,230 70.2,228.6 71.8,227 73.4,225.3 75,223.9 76.6,222.6 78.2,221.6 79.8,220.8 81.4,220.2 83,220.1 84.6,220.3 86.1,220.5 87.7,220.8 89.3,221.3 90.9,221.8 92.5,222.4 94.1,223.1 95.7,223.8 97.3,224.6 98.9,225.4 100.5,226.3 102.1,227.2 103.7,228.2 105.3,229.3 106.9,230.2 108.5,231.2 110.1,232.1 111.7,233 113.3,233.9 114.9,234.8 116.5,235.5 118,236.2 119.6,236.9 121.2,237.5 122.8,238 124.4,238.5 126,238.9 127.6,239.3 129.2,239.7 130.8,240 132.4,240.2 134,240.5 135.6,240.7 137.2,240.9 138.8,241.1 140.4,241.3 142,241.4 143.6,241.6 145.2,241.7 146.8,241.8 148.4,241.9 149.9,242 151.5,242 153.1,242.1 154.7,242.2 156.3,242.2 157.9,242.3 159.5,242.3 161.1,242.4 162.7,242.4 164.3,242.5" fill="none" stroke="#30E0EC" stroke-width="1.1" stroke-linejoin="round"/>
<polyline points="36.7,240.8 38.3,240.8 39.9,240.8 41.5,240.7 43.1,240.5 44.7,240.4 46.3,240.2 47.9,239.9 49.5,239.6 51.1,239.1 52.7,238.5 54.2,237.8 55.8,237.1 57.4,236.3 59,235.4 60.6,234.2 62.2,232.7 63.8,231 65.4,229.2 67,227.3 68.6,225.3 70.2,223.4 71.8,221.2 73.4,219 75,217 76.6,215.3 78.2,213.9 79.8,212.8 81.4,212 83,211.8 84.6,212 86.1,212.3 87.7,212.8 89.3,213.4 90.9,214.2 92.5,215 94.1,215.9 95.7,216.9 97.3,217.9 98.9,219 100.5,220.2 102.1,221.5 103.7,222.9 105.3,224.3 106.9,225.6 108.5,226.9 110.1,228.1 111.7,229.4 113.3,230.6 114.9,231.8 116.5,232.8 118,233.7 119.6,234.6 121.2,235.4 122.8,236.2 124.4,236.9 126,237.5 127.6,238 129.2,238.4 130.8,238.8 132.4,239.2 134,239.6 135.6,239.9 137.2,240.2 138.8,240.4 140.4,240.6 142,240.8 143.6,241 145.2,241.2 146.8,241.3 148.4,241.5 149.9,241.6 151.5,241.7 153.1,241.8 154.7,241.8 156.3,241.9 157.9,242 159.5,242.1 161.1,242.1 162.7,242.2 164.3,242.3" fill="none" stroke="#F040F0" stroke-width="1.1" stroke-linejoin="round"/>
<polyline points="36.7,240.4 38.3,240.4 39.9,240.3 41.5,240.2 43.1,240 44.7,239.8 46.3,239.5 47.9,239.2 49.5,238.7 51.1,238.1 52.7,237.3 54.2,236.5 55.8,235.5 57.4,234.5 59,233.3 60.6,231.7 62.2,229.8 63.8,227.6 65.4,225.3 67,222.8 68.6,220.3 70.2,217.8 71.8,215 73.4,212.1 75,209.6 76.6,207.3 78.2,205.5 79.8,204.1 81.4,203.1 83,202.9 84.6,203.1 86.1,203.5 87.7,204.1 89.3,204.9 90.9,205.8 92.5,206.9 94.1,208.1 95.7,209.4 97.3,210.7 98.9,212.1 100.5,213.6 102.1,215.3 103.7,217.1 105.3,218.9 106.9,220.6 108.5,222.2 110.1,223.8 111.7,225.5 113.3,227 114.9,228.5 116.5,229.9 118,231.1 119.6,232.2 121.2,233.2 122.8,234.2 124.4,235.1 126,235.8 127.6,236.5 129.2,237.1 130.8,237.6 132.4,238.1 134,238.6 135.6,239 137.2,239.3 138.8,239.6 140.4,239.9 142,240.2 143.6,240.4 145.2,240.6 146.8,240.8 148.4,241 149.9,241.1 151.5,241.3 153.1,241.4 154.7,241.5 156.3,241.6 157.9,241.7 159.5,241.8 161.1,241.9 162.7,241.9 164.3,242" fill="none" stroke="#F4F030" stroke-width="1.1" stroke-linejoin="round"/>
<polyline points="36.7,240.2 38.3,240.1 39.9,240 41.5,239.9 43.1,239.6 44.7,239.4 46.3,239.1 47.9,238.7 49.5,238.2 51.1,237.4 52.7,236.6 54.2,235.6 55.8,234.5 57.4,233.2 59,231.9 60.6,230.1 62.2,227.9 63.8,225.4 65.4,222.7 67,219.8 68.6,217 70.2,214.1 71.8,210.8 73.4,207.5 75,204.6 76.6,202.1 78.2,200 79.8,198.4 81.4,197.2 83,196.9 84.6,197.2 86.1,197.6 87.7,198.3 89.3,199.3 90.9,200.3 92.5,201.6 94.1,202.9 95.7,204.4 97.3,205.9 98.9,207.5 100.5,209.3 102.1,211.2 103.7,213.2 105.3,215.3 106.9,217.3 108.5,219.1 110.1,221 111.7,222.9 113.3,224.7 114.9,226.4 116.5,227.9 118,229.3 119.6,230.6 121.2,231.8 122.8,232.9 124.4,233.9 126,234.8 127.6,235.5 129.2,236.2 130.8,236.8 132.4,237.4 134,237.9 135.6,238.4 137.2,238.8 138.8,239.1 140.4,239.5 142,239.8 143.6,240 145.2,240.3 146.8,240.5 148.4,240.7 149.9,240.8 151.5,241 153.1,241.1 154.7,241.2 156.3,241.4 157.9,241.5 159.5,241.6 161.1,241.7 162.7,241.8 164.3,241.9" fill="none" stroke="#A0A040" stroke-width="1.1" stroke-linejoin="round"/>
<polyline points="36.7,239.8 38.3,239.8 39.9,239.6 41.5,239.4 43.1,239.2 44.7,238.9 46.3,238.5 47.9,238.1 49.5,237.4 51.1,236.5 52.7,235.5 54.2,234.3 55.8,233 57.4,231.6 59,230 60.6,227.9 62.2,225.3 63.8,222.3 65.4,219.2 67,215.8 68.6,212.5 70.2,209.1 71.8,205.2 73.4,201.3 75,197.9 76.6,194.9 78.2,192.5 79.8,190.6 81.4,189.1 83,188.9 84.6,189.2 86.1,189.7 87.7,190.5 89.3,191.6 90.9,192.9 92.5,194.3 94.1,195.9 95.7,197.6 97.3,199.4 98.9,201.3 100.5,203.4 102.1,205.6 103.7,208 105.3,210.4 106.9,212.7 108.5,214.9 110.1,217.1 111.7,219.3 113.3,221.5 114.9,223.5 116.5,225.3 118,226.9 119.6,228.4 121.2,229.8 122.8,231.1 124.4,232.3 126,233.3 127.6,234.2 129.2,235 130.8,235.7 132.4,236.4 134,237 135.6,237.6 137.2,238 138.8,238.4 140.4,238.8 142,239.2 143.6,239.5 145.2,239.8 146.8,240 148.4,240.3 149.9,240.5 151.5,240.6 153.1,240.8 154.7,240.9 156.3,241.1 157.9,241.2 159.5,241.3 161.1,241.4 162.7,241.6 164.3,241.7" fill="none" stroke="#3A3AA0" stroke-width="1.1" stroke-linejoin="round"/>
<polyline points="36.7,239.6 38.3,239.6 39.9,239.4 41.5,239.2 43.1,238.9 44.7,238.6 46.3,238.2 47.9,237.7 49.5,237 51.1,236 52.7,234.9 54.2,233.6 55.8,232.2 57.4,230.6 59,228.9 60.6,226.6 62.2,223.8 63.8,220.6 65.4,217.1 67,213.5 68.6,209.8 70.2,206.2 71.8,202 73.4,197.7 75,194 76.6,190.8 78.2,188.1 79.8,186 81.4,184.5 83,184.2 84.6,184.5 86.1,185 87.7,185.9 89.3,187.1 90.9,188.5 92.5,190.1 94.1,191.8 95.7,193.7 97.3,195.7 98.9,197.7 100.5,199.9 102.1,202.4 103.7,205 105.3,207.6 106.9,210.1 108.5,212.5 110.1,214.9 111.7,217.3 113.3,219.6 114.9,221.8 116.5,223.7 118,225.5 119.6,227.1 121.2,228.6 122.8,230.1 124.4,231.4 126,232.5 127.6,233.4 129.2,234.3 130.8,235.1 132.4,235.8 134,236.5 135.6,237.1 137.2,237.6 138.8,238 140.4,238.5 142,238.8 143.6,239.2 145.2,239.5 146.8,239.8 148.4,240 149.9,240.2 151.5,240.4 153.1,240.6 154.7,240.7 156.3,240.9 157.9,241 159.5,241.2 161.1,241.3 162.7,241.4 164.3,241.6" fill="none" stroke="#A048A8" stroke-width="1.1" stroke-linejoin="round"/>
<polyline points="36.7,239.3 38.3,239.3 39.9,239.1 41.5,238.9 43.1,238.6 44.7,238.2 46.3,237.8 47.9,237.2 49.5,236.4 51.1,235.4 52.7,234.1 54.2,232.7 55.8,231.2 57.4,229.5 59,227.5 60.6,225 62.2,221.9 63.8,218.4 65.4,214.6 67,210.6 68.6,206.6 70.2,202.5 71.8,197.9 73.4,193.2 75,189.2 76.6,185.6 78.2,182.6 79.8,180.4 81.4,178.7 83,178.3 84.6,178.7 86.1,179.3 87.7,180.2 89.3,181.6 90.9,183.1 92.5,184.8 94.1,186.7 95.7,188.8 97.3,191 98.9,193.2 100.5,195.7 102.1,198.4 103.7,201.2 105.3,204.1 106.9,206.9 108.5,209.5 110.1,212.1 111.7,214.7 113.3,217.3 114.9,219.7 116.5,221.8 118,223.7 119.6,225.5 121.2,227.2 122.8,228.8 124.4,230.2 126,231.4 127.6,232.5 129.2,233.4 130.8,234.3 132.4,235.1 134,235.8 135.6,236.5 137.2,237.1 138.8,237.5 140.4,238 142,238.4 143.6,238.8 145.2,239.1 146.8,239.4 148.4,239.7 149.9,239.9 151.5,240.2 153.1,240.3 154.7,240.5 156.3,240.7 157.9,240.8 159.5,241 161.1,241.1 162.7,241.3 164.3,241.4" fill="none" stroke="#B04848" stroke-width="1.1" stroke-linejoin="round"/>
<polyline points="36.7,239 38.3,239 39.9,238.8 41.5,238.5 43.1,238.2 44.7,237.7 46.3,237.3 47.9,236.7 49.5,235.8 51.1,234.6 52.7,233.3 54.2,231.7 55.8,230 57.4,228.1 59,226 60.6,223.1 62.2,219.7 63.8,215.8 65.4,211.6 67,207.2 68.6,202.8 70.2,198.3 71.8,193.3 73.4,188.1 75,183.6 76.6,179.6 78.2,176.4 79.8,173.9 81.4,172 83,171.6 84.6,172 86.1,172.7 87.7,173.7 89.3,175.2 90.9,176.9 92.5,178.8 94.1,180.9 95.7,183.1 97.3,185.5 98.9,188 100.5,190.7 102.1,193.7 103.7,196.8 105.3,200 106.9,203.1 108.5,206 110.1,208.9 111.7,211.8 113.3,214.6 114.9,217.2 116.5,219.6 118,221.7 119.6,223.7 121.2,225.6 122.8,227.3 124.4,228.9 126,230.2 127.6,231.4 129.2,232.4 130.8,233.4 132.4,234.3 134,235.1 135.6,235.8 137.2,236.4 138.8,237 140.4,237.5 142,237.9 143.6,238.3 145.2,238.7 146.8,239.1 148.4,239.4 149.9,239.6 151.5,239.8 153.1,240.1 154.7,240.2 156.3,240.4 157.9,240.6 159.5,240.7 161.1,240.9 162.7,241.1 164.3,241.2" fill="none" stroke="#30A050" stroke-width="1.1" stroke-linejoin="round"/>
<polyline points="36.7,238.8 38.3,238.7 39.9,238.5 41.5,238.2 43.1,237.9 44.7,237.4 46.3,236.9 47.9,236.2 49.5,235.3 51.1,234.1 52.7,232.6 54.2,230.9 55.8,229.1 57.4,227 59,224.8 60.6,221.7 62.2,218.1 63.8,213.9 65.4,209.4 67,204.7 68.6,199.9 70.2,195.1 71.8,189.7 73.4,184.1 75,179.3 76.6,175.1 78.2,171.6 79.8,168.9 81.4,166.9 83,166.5 84.6,166.9 86.1,167.6 87.7,168.7 89.3,170.3 90.9,172.1 92.5,174.1 94.1,176.4 95.7,178.8 97.3,181.4 98.9,184.1 100.5,187 102.1,190.2 103.7,193.5 105.3,196.9 106.9,200.2 108.5,203.3 110.1,206.4 111.7,209.5 113.3,212.5 114.9,215.4 116.5,217.9 118,220.2 119.6,222.3 121.2,224.3 122.8,226.2 124.4,227.8 126,229.3 127.6,230.5 129.2,231.7 130.8,232.7 132.4,233.7 134,234.5 135.6,235.3 137.2,236 138.8,236.5 140.4,237.1 142,237.6 143.6,238 145.2,238.4 146.8,238.8 148.4,239.1 149.9,239.4 151.5,239.6 153.1,239.8 154.7,240 156.3,240.2 157.9,240.4 159.5,240.6 161.1,240.7 162.7,240.9 164.3,241.1" fill="none" stroke="#3AA8A8" stroke-width="1.1" stroke-linejoin="round"/>
<polyline points="36.7,238.6 38.3,238.5 39.9,238.3 41.5,238 43.1,237.6 44.7,237.1 46.3,236.6 47.9,235.9 49.5,234.9 51.1,233.6 52.7,232 54.2,230.3 55.8,228.3 57.4,226.1 59,223.7 60.6,220.5 62.2,216.7 63.8,212.3 65.4,207.5 67,202.5 68.6,197.4 70.2,192.4 71.8,186.6 73.4,180.8 75,175.7 76.6,171.2 78.2,167.5 79.8,164.7 81.4,162.5 83,162.1 84.6,162.6 86.1,163.3 87.7,164.5 89.3,166.2 90.9,168.1 92.5,170.2 94.1,172.6 95.7,175.2 97.3,177.9 98.9,180.7 100.5,183.8 102.1,187.1 103.7,190.7 105.3,194.3 106.9,197.8 108.5,201 110.1,204.3 111.7,207.6 113.3,210.8 114.9,213.8 116.5,216.5 118,218.9 119.6,221.1 121.2,223.2 122.8,225.2 124.4,227 126,228.5 127.6,229.8 129.2,231 130.8,232.1 132.4,233.1 134,234 135.6,234.8 137.2,235.6 138.8,236.2 140.4,236.7 142,237.2 143.6,237.7 145.2,238.1 146.8,238.5 148.4,238.9 149.9,239.2 151.5,239.4 153.1,239.7 154.7,239.9 156.3,240.1 157.9,240.2 159.5,240.4 161.1,240.6 162.7,240.8 164.3,241" fill="none" stroke="#4848B8" stroke-width="1.1" stroke-linejoin="round"/>
<polyline points="36.7,238.5 38.3,238.4 39.9,238.2 41.5,237.9 43.1,237.4 44.7,236.9 46.3,236.4 47.9,235.7 49.5,234.6 51.1,233.3 52.7,231.7 54.2,229.8 55.8,227.8 57.4,225.6 59,223.1 60.6,219.8 62.2,215.8 63.8,211.2 65.4,206.3 67,201.1 68.6,195.9 70.2,190.6 71.8,184.7 73.4,178.6 75,173.4 76.6,168.7 78.2,164.9 79.8,162 81.4,159.7 83,159.3 84.6,159.8 86.1,160.5 87.7,161.7 89.3,163.5 90.9,165.5 92.5,167.7 94.1,170.1 95.7,172.8 97.3,175.6 98.9,178.5 100.5,181.7 102.1,185.2 103.7,188.9 105.3,192.6 106.9,196.2 108.5,199.6 110.1,203 111.7,206.4 113.3,209.7 114.9,212.8 116.5,215.6 118,218.1 119.6,220.4 121.2,222.6 122.8,224.6 124.4,226.4 126,228 127.6,229.4 129.2,230.6 130.8,231.7 132.4,232.8 134,233.7 135.6,234.6 137.2,235.3 138.8,235.9 140.4,236.5 142,237 143.6,237.5 145.2,238 146.8,238.4 148.4,238.7 149.9,239 151.5,239.3 153.1,239.5 154.7,239.8 156.3,240 157.9,240.1 159.5,240.3 161.1,240.5 162.7,240.7 164.3,240.9" fill="none" stroke="#F03084" stroke-width="1.3" stroke-linejoin="round"/>
<path d="M36.8,151.5V244.1H163.8" fill="none" stroke="#2a2a2a" stroke-width="1.2"/>
<path d="M36.7,244.1v2.2M68.6,244.1v2.2M100.5,244.1v2.2M132.4,244.1v2.2M164.3,244.1v2.2M52.7,244.1v1.4M84.6,244.1v1.4M116.5,244.1v1.4M148.4,244.1v1.4M36.8,243.1h-2.2M36.8,220.6h-2.2M36.8,198.1h-2.2M36.8,175.7h-2.2M36.8,153.2h-2.2M36.8,231.9h-1.4M36.8,209.4h-1.4M36.8,186.9h-1.4M36.8,164.4h-1.4" fill="none" stroke="#2a2a2a" stroke-width="1"/>
<text x="36.7" y="253.7" font-size="7.6" text-anchor="middle" font-weight="bold">400</text>
<text x="68.6" y="253.7" font-size="7.6" text-anchor="middle" font-weight="bold">450</text>
<text x="100.5" y="253.7" font-size="7.6" text-anchor="middle" font-weight="bold">500</text>
<text x="132.4" y="253.7" font-size="7.6" text-anchor="middle" font-weight="bold">550</text>
<text x="34.2" y="245.7" font-size="7.6" text-anchor="end" font-weight="bold">0</text>
<text x="34.2" y="223.2" font-size="7.6" text-anchor="end" font-weight="bold">200</text>
<text x="34.2" y="200.7" font-size="7.6" text-anchor="end" font-weight="bold">400</text>
<text x="34.2" y="178.2" font-size="7.6" text-anchor="end" font-weight="bold">600</text>
<text x="34.2" y="155.8" font-size="7.6" text-anchor="end" font-weight="bold">800</text>
<text transform="translate(15,237.7) rotate(-90)" font-size="7.5" text-anchor="start" font-weight="bold">Fluorescence intensity</text>
<text x="97.4" y="263.2" font-size="7.6" text-anchor="middle" font-weight="bold">Wavelength / nm</text>
<text x="69.8" y="154.1" font-size="10.6" font-weight="bold">&#955;<tspan x="74.4" y="156.1" font-size="7.6">ex</tspan><tspan x="84.2" y="154.1">355 nm</tspan></text>
<text class="l" x="4.9" y="152.8" font-size="15" font-weight="normal">d)</text>
<text x="117.4" y="178.5" font-size="7.6" text-anchor="start" font-weight="bold">60.0 &#956;M</text>
<path d="M124.7,195.1V184.3" stroke="#1a1a1a" stroke-width="0.9"/>
<path d="M123.2,185L124.7,181.8L126.2,185Z" fill="#1a1a1a"/>
<text x="129.9" y="192.3" font-size="7.6" text-anchor="start" font-weight="bold">Hcy</text>
<text x="120.8" y="204.1" font-size="7.6" text-anchor="start" font-weight="bold">0.0</text>
<polyline points="227.1,239.8 228.4,240 229.6,240.2 230.9,240.2 232.2,240.2 233.5,240.1 234.7,239.9 236,239.5 237.3,238.8 238.6,238.2 239.8,237.5 241.1,236.8 242.4,236.4 243.7,236.4 244.9,236.6 246.2,236.8 247.5,237.1 248.7,237.4 250,237.7 251.3,238 252.6,238.2 253.8,238.4 255.1,238.5 256.4,238.7 257.7,238.8 258.9,239 260.2,239.1 261.5,239.2 262.8,239.4 264,239.6 265.3,239.7 266.6,239.9 267.9,240.1 269.1,240.2 270.4,240.4 271.7,240.6 272.9,240.7 274.2,240.9 275.5,241.1 276.8,241.2 278,241.4 279.3,241.5 280.6,241.7 281.9,241.8 283.1,242 284.4,242.1 285.7,242.3 287,242.4 288.2,242.5 289.5,242.6 290.8,242.7 292,242.8 293.3,242.9 294.6,243 295.9,243.1 297.1,243.2 298.4,243.3 299.7,243.4 301,243.4 302.2,243.5 303.5,243.5 304.8,243.5 306.1,243.6 307.3,243.6 308.6,243.6 309.9,243.7 311.2,243.7 312.4,243.7 313.7,243.7 315,243.8 316.2,243.8 317.5,243.8 318.8,243.8 320.1,243.8 321.3,243.8 322.6,243.8 323.9,243.8 325.2,243.9 326.4,243.9 327.7,243.9 329,243.9 330.3,243.9 331.5,243.9 332.8,243.9 334.1,243.9 335.3,243.9 336.6,243.9 337.9,243.9 339.2,243.9 340.4,243.9 341.7,243.9 343,243.9 344.3,243.9 345.5,243.9 346.8,243.9 348.1,243.9 349.4,243.9 350.6,243.9 351.9,243.9 353.2,243.9 354.4,243.9" fill="none" stroke="#F04444" stroke-width="1.1" stroke-linejoin="round"/>
<polyline points="227.1,240 228.4,240.2 229.6,240.3 230.9,240.4 232.2,240.4 233.5,240.3 234.7,240.1 236,239.7 237.3,239.1 238.6,238.5 239.8,237.9 241.1,237.2 242.4,236.8 243.7,236.8 244.9,237 246.2,237.2 247.5,237.5 248.7,237.8 250,238.1 251.3,238.3 252.6,238.5 253.8,238.7 255.1,238.9 256.4,239 257.7,239.2 258.9,239.3 260.2,239.4 261.5,239.6 262.8,239.7 264,239.8 265.3,240 266.6,240.2 267.9,240.3 269.1,240.5 270.4,240.6 271.7,240.8 272.9,240.9 274.2,241.1 275.5,241.2 276.8,241.4 278,241.5 279.3,241.7 280.6,241.8 281.9,242 283.1,242.1 284.4,242.3 285.7,242.4 287,242.5 288.2,242.6 289.5,242.7 290.8,242.8 292,242.9 293.3,243 294.6,243.1 295.9,243.2 297.1,243.2 298.4,243.3 299.7,243.4 301,243.4 302.2,243.5 303.5,243.5 304.8,243.6 306.1,243.6 307.3,243.6 308.6,243.7 309.9,243.7 311.2,243.7 312.4,243.7 313.7,243.7 315,243.8 316.2,243.8 317.5,243.8 318.8,243.8 320.1,243.8 321.3,243.8 322.6,243.8 323.9,243.9 325.2,243.9 326.4,243.9 327.7,243.9 329,243.9 330.3,243.9 331.5,243.9 332.8,243.9 334.1,243.9 335.3,243.9 336.6,243.9 337.9,243.9 339.2,243.9 340.4,243.9 341.7,243.9 343,243.9 344.3,243.9 345.5,243.9 346.8,243.9 348.1,243.9 349.4,243.9 350.6,243.9 351.9,243.9 353.2,243.9 354.4,243.9" fill="none" stroke="#303030" stroke-width="1.1" stroke-linejoin="round"/>
<polyline points="227.1,239.2 228.4,239.4 229.6,239.6 230.9,239.6 232.2,239.6 233.5,239.4 234.7,239.2 236,238.7 237.3,238 238.6,237.2 239.8,236.4 241.1,235.6 242.4,235.1 243.7,235.1 244.9,235.3 246.2,235.6 247.5,235.9 248.7,236.3 250,236.7 251.3,237 252.6,237.2 253.8,237.4 255.1,237.6 256.4,237.8 257.7,237.9 258.9,238.1 260.2,238.3 261.5,238.4 262.8,238.6 264,238.8 265.3,239 266.6,239.2 267.9,239.4 269.1,239.6 270.4,239.8 271.7,240 272.9,240.2 274.2,240.4 275.5,240.6 276.8,240.8 278,240.9 279.3,241.1 280.6,241.3 281.9,241.5 283.1,241.7 284.4,241.8 285.7,242 287,242.2 288.2,242.3 289.5,242.4 290.8,242.5 292,242.7 293.3,242.8 294.6,242.9 295.9,243 297.1,243.1 298.4,243.2 299.7,243.3 301,243.3 302.2,243.4 303.5,243.4 304.8,243.5 306.1,243.5 307.3,243.6 308.6,243.6 309.9,243.6 311.2,243.7 312.4,243.7 313.7,243.7 315,243.7 316.2,243.8 317.5,243.8 318.8,243.8 320.1,243.8 321.3,243.8 322.6,243.8 323.9,243.8 325.2,243.8 326.4,243.9 327.7,243.9 329,243.9 330.3,243.9 331.5,243.9 332.8,243.9 334.1,243.9 335.3,243.9 336.6,243.9 337.9,243.9 339.2,243.9 340.4,243.9 341.7,243.9 343,243.9 344.3,243.9 345.5,243.9 346.8,243.9 348.1,243.9 349.4,243.9 350.6,243.9 351.9,243.9 353.2,243.9 354.4,243.8" fill="none" stroke="#30D848" stroke-width="1.1" stroke-linejoin="round"/>
<polyline points="227.1,238.1 228.4,238.4 229.6,238.6 230.9,238.7 232.2,238.6 233.5,238.4 234.7,238.1 236,237.5 237.3,236.6 238.6,235.6 239.8,234.7 241.1,233.7 242.4,233.1 243.7,233.1 244.9,233.3 246.2,233.6 247.5,234 248.7,234.5 250,234.9 251.3,235.2 252.6,235.5 253.8,235.8 255.1,236 256.4,236.2 257.7,236.4 258.9,236.6 260.2,236.8 261.5,237 262.8,237.3 264,237.5 265.3,237.7 266.6,238 267.9,238.2 269.1,238.5 270.4,238.8 271.7,239 272.9,239.3 274.2,239.5 275.5,239.7 276.8,240 278,240.2 279.3,240.4 280.6,240.7 281.9,240.9 283.1,241.1 284.4,241.3 285.7,241.6 287,241.7 288.2,241.9 289.5,242.1 290.8,242.2 292,242.4 293.3,242.5 294.6,242.7 295.9,242.8 297.1,242.9 298.4,243 299.7,243.1 301,243.2 302.2,243.3 303.5,243.3 304.8,243.4 306.1,243.4 307.3,243.5 308.6,243.5 309.9,243.6 311.2,243.6 312.4,243.6 313.7,243.7 315,243.7 316.2,243.7 317.5,243.8 318.8,243.8 320.1,243.8 321.3,243.8 322.6,243.8 323.9,243.8 325.2,243.8 326.4,243.8 327.7,243.9 329,243.9 330.3,243.9 331.5,243.9 332.8,243.9 334.1,243.9 335.3,243.9 336.6,243.9 337.9,243.9 339.2,243.9 340.4,243.9 341.7,243.9 343,243.9 344.3,243.9 345.5,243.9 346.8,243.9 348.1,243.9 349.4,243.9 350.6,243.9 351.9,243.9 353.2,243.8 354.4,243.8" fill="none" stroke="#3C3CE0" stroke-width="1.1" stroke-linejoin="round"/>
<polyline points="227.1,236.8 228.4,237.2 229.6,237.4 230.9,237.4 232.2,237.3 233.5,237 234.7,236.6 236,235.8 237.3,234.6 238.6,233.5 239.8,232.3 241.1,231.1 242.4,230.3 243.7,230.2 244.9,230.5 246.2,230.9 247.5,231.3 248.7,231.9 250,232.4 251.3,232.8 252.6,233.2 253.8,233.5 255.1,233.8 256.4,234.1 257.7,234.3 258.9,234.6 260.2,234.9 261.5,235.1 262.8,235.4 264,235.7 265.3,236 266.6,236.3 267.9,236.7 269.1,237 270.4,237.3 271.7,237.6 272.9,238 274.2,238.3 275.5,238.6 276.8,238.9 278,239.2 279.3,239.5 280.6,239.8 281.9,240.1 283.1,240.4 284.4,240.7 285.7,240.9 287,241.2 288.2,241.4 289.5,241.6 290.8,241.8 292,242 293.3,242.2 294.6,242.3 295.9,242.5 297.1,242.7 298.4,242.8 299.7,242.9 301,243 302.2,243.1 303.5,243.2 304.8,243.3 306.1,243.3 307.3,243.4 308.6,243.4 309.9,243.5 311.2,243.5 312.4,243.6 313.7,243.6 315,243.7 316.2,243.7 317.5,243.7 318.8,243.7 320.1,243.8 321.3,243.8 322.6,243.8 323.9,243.8 325.2,243.8 326.4,243.8 327.7,243.8 329,243.9 330.3,243.9 331.5,243.9 332.8,243.9 334.1,243.9 335.3,243.9 336.6,243.9 337.9,243.9 339.2,243.9 340.4,243.9 341.7,243.9 343,243.9 344.3,243.9 345.5,243.9 346.8,243.9 348.1,243.9 349.4,243.9 350.6,243.9 351.9,243.8 353.2,243.8 354.4,243.8" fill="none" stroke="#30E0EC" stroke-width="1.1" stroke-linejoin="round"/>
<polyline points="227.1,235.9 228.4,236.3 229.6,236.5 230.9,236.5 232.2,236.3 233.5,236 234.7,235.5 236,234.7 237.3,233.3 238.6,232 239.8,230.6 241.1,229.2 242.4,228.3 243.7,228.3 244.9,228.5 246.2,228.9 247.5,229.4 248.7,230.1 250,230.7 251.3,231.1 252.6,231.5 253.8,231.9 255.1,232.2 256.4,232.5 257.7,232.8 258.9,233.1 260.2,233.4 261.5,233.7 262.8,234.1 264,234.4 265.3,234.8 266.6,235.2 267.9,235.5 269.1,235.9 270.4,236.3 271.7,236.7 272.9,237 274.2,237.4 275.5,237.8 276.8,238.1 278,238.5 279.3,238.8 280.6,239.2 281.9,239.5 283.1,239.9 284.4,240.2 285.7,240.5 287,240.8 288.2,241 289.5,241.3 290.8,241.5 292,241.7 293.3,241.9 294.6,242.1 295.9,242.3 297.1,242.5 298.4,242.6 299.7,242.8 301,242.9 302.2,243 303.5,243.1 304.8,243.2 306.1,243.3 307.3,243.3 308.6,243.4 309.9,243.4 311.2,243.5 312.4,243.5 313.7,243.6 315,243.6 316.2,243.7 317.5,243.7 318.8,243.7 320.1,243.7 321.3,243.8 322.6,243.8 323.9,243.8 325.2,243.8 326.4,243.8 327.7,243.8 329,243.8 330.3,243.9 331.5,243.9 332.8,243.9 334.1,243.9 335.3,243.9 336.6,243.9 337.9,243.9 339.2,243.9 340.4,243.9 341.7,243.9 343,243.9 344.3,243.9 345.5,243.9 346.8,243.9 348.1,243.9 349.4,243.9 350.6,243.9 351.9,243.8 353.2,243.8 354.4,243.8" fill="none" stroke="#F040F0" stroke-width="1.1" stroke-linejoin="round"/>
<polyline points="227.1,235 228.4,235.4 229.6,235.7 230.9,235.7 232.2,235.4 233.5,235 234.7,234.5 236,233.5 237.3,231.9 238.6,230.4 239.8,228.9 241.1,227.4 242.4,226.4 243.7,226.3 244.9,226.6 246.2,227 247.5,227.6 248.7,228.3 250,228.9 251.3,229.4 252.6,229.9 253.8,230.3 255.1,230.6 256.4,231 257.7,231.3 258.9,231.7 260.2,232 261.5,232.3 262.8,232.7 264,233.1 265.3,233.5 266.6,234 267.9,234.4 269.1,234.8 270.4,235.3 271.7,235.7 272.9,236.1 274.2,236.5 275.5,236.9 276.8,237.3 278,237.7 279.3,238.1 280.6,238.5 281.9,238.9 283.1,239.3 284.4,239.7 285.7,240.1 287,240.4 288.2,240.7 289.5,240.9 290.8,241.2 292,241.4 293.3,241.7 294.6,241.9 295.9,242.1 297.1,242.3 298.4,242.5 299.7,242.6 301,242.8 302.2,242.9 303.5,243 304.8,243.1 306.1,243.2 307.3,243.3 308.6,243.3 309.9,243.4 311.2,243.4 312.4,243.5 313.7,243.5 315,243.6 316.2,243.6 317.5,243.7 318.8,243.7 320.1,243.7 321.3,243.8 322.6,243.8 323.9,243.8 325.2,243.8 326.4,243.8 327.7,243.8 329,243.8 330.3,243.8 331.5,243.9 332.8,243.9 334.1,243.9 335.3,243.9 336.6,243.9 337.9,243.9 339.2,243.9 340.4,243.9 341.7,243.9 343,243.9 344.3,243.9 345.5,243.9 346.8,243.9 348.1,243.9 349.4,243.9 350.6,243.8 351.9,243.8 353.2,243.8 354.4,243.8" fill="none" stroke="#F4F030" stroke-width="1.1" stroke-linejoin="round"/>
<polyline points="227.1,232.3 228.4,232.9 229.6,233.1 230.9,233 232.2,232.6 233.5,232 234.7,231.2 236,229.8 237.3,227.7 238.6,225.7 239.8,223.7 241.1,221.7 242.4,220.3 243.7,220.1 244.9,220.4 246.2,221 247.5,221.7 248.7,222.6 250,223.4 251.3,224 252.6,224.6 253.8,225.1 255.1,225.6 256.4,226.1 257.7,226.5 258.9,227 260.2,227.4 261.5,227.9 262.8,228.4 264,229 265.3,229.6 266.6,230.1 267.9,230.7 269.1,231.3 270.4,232 271.7,232.6 272.9,233.1 274.2,233.7 275.5,234.3 276.8,234.9 278,235.4 279.3,236 280.6,236.6 281.9,237.1 283.1,237.7 284.4,238.2 285.7,238.7 287,239.1 288.2,239.6 289.5,239.9 290.8,240.3 292,240.6 293.3,240.9 294.6,241.2 295.9,241.5 297.1,241.8 298.4,242 299.7,242.2 301,242.4 302.2,242.6 303.5,242.7 304.8,242.8 306.1,243 307.3,243.1 308.6,243.1 309.9,243.2 311.2,243.3 312.4,243.4 313.7,243.4 315,243.5 316.2,243.5 317.5,243.6 318.8,243.6 320.1,243.7 321.3,243.7 322.6,243.7 323.9,243.7 325.2,243.8 326.4,243.8 327.7,243.8 329,243.8 330.3,243.8 331.5,243.8 332.8,243.9 334.1,243.9 335.3,243.9 336.6,243.9 337.9,243.9 339.2,243.9 340.4,243.9 341.7,243.9 343,243.9 344.3,243.9 345.5,243.9 346.8,243.9 348.1,243.9 349.4,243.8 350.6,243.8 351.9,243.8 353.2,243.8 354.4,243.8" fill="none" stroke="#A0A040" stroke-width="1.1" stroke-linejoin="round"/>
<polyline points="227.1,229 228.4,229.5 229.6,229.7 230.9,229.4 232.2,228.5 233.5,227.4 234.7,226 236,224.1 237.3,221.2 238.6,218.5 239.8,215.8 241.1,213 242.4,211.1 243.7,210.6 244.9,210.9 246.2,211.4 247.5,212.2 248.7,213.3 250,214.3 251.3,215 252.6,215.8 253.8,216.5 255.1,217.1 256.4,217.7 257.7,218.4 258.9,219.1 260.2,219.7 261.5,220.4 262.8,221.2 264,222 265.3,222.8 266.6,223.7 267.9,224.6 269.1,225.5 270.4,226.4 271.7,227.3 272.9,228.2 274.2,229.1 275.5,229.9 276.8,230.8 278,231.6 279.3,232.5 280.6,233.3 281.9,234.2 283.1,235 284.4,235.8 285.7,236.5 287,237.2 288.2,237.8 289.5,238.3 290.8,238.8 292,239.3 293.3,239.8 294.6,240.2 295.9,240.6 297.1,241 298.4,241.3 299.7,241.6 301,241.9 302.2,242.1 303.5,242.3 304.8,242.5 306.1,242.6 307.3,242.8 308.6,242.9 309.9,243 311.2,243.1 312.4,243.2 313.7,243.3 315,243.4 316.2,243.4 317.5,243.5 318.8,243.6 320.1,243.6 321.3,243.6 322.6,243.7 323.9,243.7 325.2,243.7 326.4,243.8 327.7,243.8 329,243.8 330.3,243.8 331.5,243.8 332.8,243.8 334.1,243.9 335.3,243.9 336.6,243.9 337.9,243.9 339.2,243.9 340.4,243.9 341.7,243.9 343,243.9 344.3,243.9 345.5,243.9 346.8,243.9 348.1,243.9 349.4,243.8 350.6,243.8 351.9,243.8 353.2,243.7 354.4,243.7" fill="none" stroke="#3A3AA0" stroke-width="1.1" stroke-linejoin="round"/>
<polyline points="227.1,226.7 228.4,227.2 229.6,227.1 230.9,226.3 232.2,224.8 233.5,222.9 234.7,220.9 236,218.2 237.3,214.7 238.6,211.3 239.8,207.9 241.1,204.5 242.4,202.1 243.7,201.2 244.9,201.2 246.2,201.6 247.5,202.4 248.7,203.5 250,204.5 251.3,205.3 252.6,206.1 253.8,206.9 255.1,207.7 256.4,208.5 257.7,209.3 258.9,210.2 260.2,211.1 261.5,212.1 262.8,213.1 264,214.1 265.3,215.3 266.6,216.4 267.9,217.7 269.1,218.9 270.4,220.2 271.7,221.4 272.9,222.7 274.2,223.9 275.5,225.1 276.8,226.3 278,227.5 279.3,228.7 280.6,229.8 281.9,231 283.1,232.2 284.4,233.3 285.7,234.3 287,235.3 288.2,236.1 289.5,236.8 290.8,237.5 292,238.1 293.3,238.7 294.6,239.3 295.9,239.8 297.1,240.3 298.4,240.7 299.7,241.1 301,241.4 302.2,241.7 303.5,242 304.8,242.2 306.1,242.4 307.3,242.5 308.6,242.7 309.9,242.8 311.2,242.9 312.4,243.1 313.7,243.2 315,243.3 316.2,243.3 317.5,243.4 318.8,243.5 320.1,243.5 321.3,243.6 322.6,243.6 323.9,243.7 325.2,243.7 326.4,243.7 327.7,243.8 329,243.8 330.3,243.8 331.5,243.8 332.8,243.8 334.1,243.9 335.3,243.9 336.6,243.9 337.9,243.9 339.2,243.9 340.4,243.9 341.7,243.9 343,243.9 344.3,243.9 345.5,243.9 346.8,243.9 348.1,243.8 349.4,243.8 350.6,243.8 351.9,243.8 353.2,243.7 354.4,243.7" fill="none" stroke="#A048A8" stroke-width="1.1" stroke-linejoin="round"/>
<polyline points="227.1,227.6 228.4,227.6 229.6,226.8 230.9,225 232.2,222.2 233.5,219 234.7,215.8 236,212.4 237.3,208.3 238.6,204.4 239.8,200.6 241.1,196.8 242.4,193.9 243.7,192.1 244.9,191.3 246.2,191.3 247.5,191.6 248.7,192.2 250,192.8 251.3,193.4 252.6,194.1 253.8,194.9 255.1,195.7 256.4,196.7 257.7,197.7 258.9,198.9 260.2,200 261.5,201.3 262.8,202.6 264,204 265.3,205.5 266.6,207.1 267.9,208.8 269.1,210.5 270.4,212.3 271.7,214 272.9,215.7 274.2,217.5 275.5,219.2 276.8,220.8 278,222.5 279.3,224.1 280.6,225.7 281.9,227.4 283.1,229 284.4,230.6 285.7,232 287,233.3 288.2,234.3 289.5,235.3 290.8,236.2 292,237 293.3,237.8 294.6,238.5 295.9,239.2 297.1,239.8 298.4,240.3 299.7,240.7 301,241.1 302.2,241.5 303.5,241.8 304.8,242 306.1,242.3 307.3,242.5 308.6,242.6 309.9,242.8 311.2,242.9 312.4,243 313.7,243.1 315,243.2 316.2,243.3 317.5,243.4 318.8,243.5 320.1,243.5 321.3,243.6 322.6,243.6 323.9,243.7 325.2,243.7 326.4,243.7 327.7,243.7 329,243.8 330.3,243.8 331.5,243.8 332.8,243.8 334.1,243.9 335.3,243.9 336.6,243.9 337.9,243.9 339.2,243.9 340.4,243.9 341.7,243.9 343,243.9 344.3,243.9 345.5,243.9 346.8,243.9 348.1,243.8 349.4,243.8 350.6,243.8 351.9,243.8 353.2,243.7 354.4,243.7" fill="none" stroke="#B04848" stroke-width="1.1" stroke-linejoin="round"/>
<polyline points="227.1,229.5 228.4,228.9 229.6,227.4 230.9,224.4 232.2,220.3 233.5,215.6 234.7,211.2 236,207 237.3,202.5 238.6,198.2 239.8,194.1 241.1,190.1 242.4,186.6 243.7,184 244.9,182.2 246.2,181.6 247.5,181.4 248.7,181.4 250,181.5 251.3,181.8 252.6,182.4 253.8,183.1 255.1,184 256.4,185 257.7,186.3 258.9,187.7 260.2,189.1 261.5,190.6 262.8,192.3 264,194 265.3,195.9 266.6,197.8 267.9,200 269.1,202.2 270.4,204.5 271.7,206.7 272.9,208.9 274.2,211.1 275.5,213.3 276.8,215.5 278,217.6 279.3,219.7 280.6,221.8 281.9,223.9 283.1,226 284.4,228 285.7,229.8 287,231.5 288.2,232.8 289.5,234 290.8,235.1 292,236.1 293.3,237.1 294.6,237.9 295.9,238.7 297.1,239.4 298.4,240 299.7,240.4 301,240.9 302.2,241.3 303.5,241.6 304.8,241.9 306.1,242.2 307.3,242.4 308.6,242.6 309.9,242.8 311.2,242.9 312.4,243 313.7,243.1 315,243.2 316.2,243.3 317.5,243.4 318.8,243.5 320.1,243.5 321.3,243.6 322.6,243.6 323.9,243.7 325.2,243.7 326.4,243.7 327.7,243.8 329,243.8 330.3,243.8 331.5,243.8 332.8,243.8 334.1,243.9 335.3,243.9 336.6,243.9 337.9,243.9 339.2,243.9 340.4,243.9 341.7,243.9 343,243.9 344.3,243.9 345.5,243.9 346.8,243.9 348.1,243.8 349.4,243.8 350.6,243.8 351.9,243.8 353.2,243.7 354.4,243.7" fill="none" stroke="#30A050" stroke-width="1.1" stroke-linejoin="round"/>
<polyline points="227.1,230.5 228.4,229.4 229.6,227.3 230.9,223.5 232.2,218.2 233.5,212.4 234.7,206.9 236,202 237.3,197.1 238.6,192.4 239.8,187.9 241.1,183.6 242.4,179.7 243.7,176.3 244.9,173.9 246.2,172.8 247.5,172.1 248.7,171.6 250,171.4 251.3,171.5 252.6,172 253.8,172.7 255.1,173.6 256.4,174.7 257.7,176.2 258.9,177.8 260.2,179.5 261.5,181.3 262.8,183.2 264,185.3 265.3,187.4 266.6,189.7 267.9,192.3 269.1,194.9 270.4,197.6 271.7,200.3 272.9,202.9 274.2,205.6 275.5,208.2 276.8,210.8 278,213.3 279.3,215.7 280.6,218.2 281.9,220.8 283.1,223.3 284.4,225.7 285.7,227.8 287,229.8 288.2,231.3 289.5,232.7 290.8,234 292,235.2 293.3,236.3 294.6,237.3 295.9,238.2 297.1,239 298.4,239.6 299.7,240.1 301,240.6 302.2,241.1 303.5,241.5 304.8,241.8 306.1,242.1 307.3,242.4 308.6,242.6 309.9,242.7 311.2,242.9 312.4,243 313.7,243.1 315,243.2 316.2,243.3 317.5,243.4 318.8,243.5 320.1,243.5 321.3,243.6 322.6,243.6 323.9,243.7 325.2,243.7 326.4,243.7 327.7,243.8 329,243.8 330.3,243.8 331.5,243.8 332.8,243.8 334.1,243.9 335.3,243.9 336.6,243.9 337.9,243.9 339.2,243.9 340.4,243.9 341.7,243.9 343,243.9 344.3,243.9 345.5,243.9 346.8,243.9 348.1,243.8 349.4,243.8 350.6,243.8 351.9,243.8 353.2,243.7 354.4,243.7" fill="none" stroke="#3AA8A8" stroke-width="1.1" stroke-linejoin="round"/>
<polyline points="227.1,231.3 228.4,230 229.6,227.6 230.9,223.2 232.2,217.3 233.5,210.8 234.7,204.8 236,199.6 237.3,194.5 238.6,189.6 239.8,184.9 241.1,180.6 242.4,176.4 243.7,172.6 244.9,169.8 246.2,168.5 247.5,167.5 248.7,166.8 250,166.4 251.3,166.3 252.6,166.7 253.8,167.5 255.1,168.4 256.4,169.5 257.7,171.1 258.9,172.8 260.2,174.6 261.5,176.5 262.8,178.6 264,180.8 265.3,183.1 266.6,185.6 267.9,188.3 269.1,191.2 270.4,194.2 271.7,197.1 272.9,199.9 274.2,202.7 275.5,205.6 276.8,208.4 278,211.1 279.3,213.7 280.6,216.5 281.9,219.2 283.1,222 284.4,224.5 285.7,226.9 287,229 288.2,230.7 289.5,232.1 290.8,233.5 292,234.8 293.3,236 294.6,237.1 295.9,238 297.1,238.8 298.4,239.5 299.7,240 301,240.5 302.2,241 303.5,241.4 304.8,241.8 306.1,242.1 307.3,242.4 308.6,242.6 309.9,242.7 311.2,242.9 312.4,243 313.7,243.1 315,243.2 316.2,243.3 317.5,243.4 318.8,243.5 320.1,243.5 321.3,243.6 322.6,243.6 323.9,243.7 325.2,243.7 326.4,243.7 327.7,243.8 329,243.8 330.3,243.8 331.5,243.8 332.8,243.8 334.1,243.9 335.3,243.9 336.6,243.9 337.9,243.9 339.2,243.9 340.4,243.9 341.7,243.9 343,243.9 344.3,243.9 345.5,243.9 346.8,243.9 348.1,243.8 349.4,243.8 350.6,243.8 351.9,243.8 353.2,243.7 354.4,243.7" fill="none" stroke="#4848B8" stroke-width="1.1" stroke-linejoin="round"/>
<polyline points="227.1,231.6 228.4,230 229.6,227.4 230.9,222.6 232.2,216.1 233.5,209.1 234.7,202.6 236,197.1 237.3,191.7 238.6,186.6 239.8,181.7 241.1,177.2 242.4,172.8 243.7,168.7 244.9,165.5 246.2,164 247.5,162.8 248.7,162 250,161.4 251.3,161.2 252.6,161.6 253.8,162.4 255.1,163.3 256.4,164.5 257.7,166.1 258.9,168 260.2,169.8 261.5,171.9 262.8,174.1 264,176.5 265.3,179 266.6,181.6 267.9,184.5 269.1,187.6 270.4,190.8 271.7,193.9 272.9,196.9 274.2,200 275.5,203 276.8,206 278,208.9 279.3,211.8 280.6,214.7 281.9,217.7 283.1,220.6 284.4,223.3 285.7,225.9 287,228.1 288.2,229.9 289.5,231.5 290.8,233 292,234.3 293.3,235.6 294.6,236.7 295.9,237.7 297.1,238.6 298.4,239.3 299.7,239.8 301,240.4 302.2,240.9 303.5,241.3 304.8,241.7 306.1,242.1 307.3,242.3 308.6,242.6 309.9,242.7 311.2,242.8 312.4,243 313.7,243.1 315,243.2 316.2,243.3 317.5,243.4 318.8,243.4 320.1,243.5 321.3,243.6 322.6,243.6 323.9,243.7 325.2,243.7 326.4,243.7 327.7,243.8 329,243.8 330.3,243.8 331.5,243.8 332.8,243.8 334.1,243.9 335.3,243.9 336.6,243.9 337.9,243.9 339.2,243.9 340.4,243.9 341.7,243.9 343,243.9 344.3,243.9 345.5,243.9 346.8,243.9 348.1,243.8 349.4,243.8 350.6,243.8 351.9,243.8 353.2,243.7 354.4,243.7" fill="none" stroke="#EC9448" stroke-width="1.1" stroke-linejoin="round"/>
<polyline points="227.1,232.1 228.4,230.4 229.6,227.6 230.9,222.6 232.2,215.9 233.5,208.7 234.7,201.9 236,196.3 237.3,190.9 238.6,185.7 239.8,180.8 241.1,176.3 242.4,171.9 243.7,167.5 244.9,164.2 246.2,162.6 247.5,161.3 248.7,160.3 250,159.7 251.3,159.5 252.6,159.8 253.8,160.5 255.1,161.5 256.4,162.7 257.7,164.3 258.9,166.2 260.2,168.1 261.5,170.2 262.8,172.5 264,174.9 265.3,177.5 266.6,180.2 267.9,183.2 269.1,186.3 270.4,189.6 271.7,192.8 272.9,195.9 274.2,199 275.5,202.1 276.8,205.2 278,208.2 279.3,211.1 280.6,214.1 281.9,217.2 283.1,220.1 284.4,223 285.7,225.6 287,227.8 288.2,229.7 289.5,231.3 290.8,232.8 292,234.2 293.3,235.5 294.6,236.7 295.9,237.7 297.1,238.5 298.4,239.2 299.7,239.8 301,240.4 302.2,240.9 303.5,241.3 304.8,241.7 306.1,242.1 307.3,242.4 308.6,242.6 309.9,242.7 311.2,242.8 312.4,243 313.7,243.1 315,243.2 316.2,243.3 317.5,243.4 318.8,243.5 320.1,243.5 321.3,243.6 322.6,243.6 323.9,243.7 325.2,243.7 326.4,243.7 327.7,243.8 329,243.8 330.3,243.8 331.5,243.8 332.8,243.8 334.1,243.9 335.3,243.9 336.6,243.9 337.9,243.9 339.2,243.9 340.4,243.9 341.7,243.9 343,243.9 344.3,243.9 345.5,243.9 346.8,243.9 348.1,243.8 349.4,243.8 350.6,243.8 351.9,243.8 353.2,243.7 354.4,243.7" fill="none" stroke="#F03084" stroke-width="1.4" stroke-linejoin="round"/>
<path d="M227.2,151V244.4H354.3" fill="none" stroke="#2a2a2a" stroke-width="1.2"/>
<path d="M227.1,244.4v2.2M248.3,244.4v2.2M269.6,244.4v2.2M290.8,244.4v2.2M312,244.4v2.2M333.2,244.4v2.2M354.4,244.4v2.2M237.7,244.4v1.4M258.9,244.4v1.4M280.2,244.4v1.4M301.4,244.4v1.4M322.6,244.4v1.4M343.8,244.4v1.4M227.2,243.9h-2.2M227.2,223.1h-2.2M227.2,202.2h-2.2M227.2,181.4h-2.2M227.2,160.5h-2.2M227.2,233.5h-1.4M227.2,212.6h-1.4M227.2,191.8h-1.4M227.2,170.9h-1.4M227.2,150.1h-1.4" fill="none" stroke="#2a2a2a" stroke-width="1"/>
<text x="227.1" y="254" font-size="7.6" text-anchor="middle" font-weight="bold">500</text>
<text x="248.3" y="254" font-size="7.6" text-anchor="middle" font-weight="bold">550</text>
<text x="269.6" y="254" font-size="7.6" text-anchor="middle" font-weight="bold">600</text>
<text x="290.8" y="254" font-size="7.6" text-anchor="middle" font-weight="bold">650</text>
<text x="312" y="254" font-size="7.6" text-anchor="middle" font-weight="bold">700</text>
<text x="333.2" y="254" font-size="7.6" text-anchor="middle" font-weight="bold">750</text>
<text x="224.6" y="246.5" font-size="7.6" text-anchor="end" font-weight="bold">0</text>
<text x="224.6" y="225.6" font-size="7.6" text-anchor="end" font-weight="bold">20</text>
<text x="224.6" y="204.8" font-size="7.6" text-anchor="end" font-weight="bold">40</text>
<text x="224.6" y="183.9" font-size="7.6" text-anchor="end" font-weight="bold">60</text>
<text x="224.6" y="163.1" font-size="7.6" text-anchor="end" font-weight="bold">80</text>
<text transform="translate(208.5,234.7) rotate(-90)" font-size="7.5" text-anchor="start" font-weight="bold">Fluorescence intensity</text>
<text x="284.8" y="263.2" font-size="7.6" text-anchor="middle" font-weight="bold">Wavelength / nm</text>
<text x="268.7" y="154.3" font-size="10.6" font-weight="bold">&#955;<tspan x="273.3" y="156.3" font-size="7.6">ex</tspan><tspan x="283.1" y="154.3">450 nm</tspan></text>
<text class="l" x="196.8" y="152.8" font-size="15" font-weight="normal">e)</text>
<text x="282.8" y="184" font-size="7.6" text-anchor="start" font-weight="bold">60.0 &#956;M</text>
<path d="M291,201.5V189.3" stroke="#1a1a1a" stroke-width="0.9"/>
<path d="M289.5,190L291,186.8L292.5,190Z" fill="#1a1a1a"/>
<text x="297.4" y="196.6" font-size="7.6" text-anchor="start" font-weight="bold">Hcy</text>
<text x="287" y="206.9" font-size="7.6" text-anchor="start" font-weight="bold">0.0</text>
<path d="M418.1,240.2h2.2v2.6h-2.2zM420.1,236.7h2.2v2.6h-2.2zM422,231.6h2.2v2.6h-2.2zM424,225.7h2.2v2.6h-2.2zM425.9,219h2.2v2.6h-2.2zM427.9,210.6h2.2v2.6h-2.2zM429.8,201h2.2v2.6h-2.2zM431.8,195.5h2.2v2.6h-2.2zM433.7,186.5h2.2v2.6h-2.2zM435.7,181.3h2.2v2.6h-2.2zM437.6,176.1h2.2v2.6h-2.2zM447.4,168.9h2.2v2.6h-2.2zM457.2,162.2h2.2v2.6h-2.2zM476.7,159.1h2.2v2.6h-2.2zM496.2,155.7h2.2v2.6h-2.2zM515.8,155.7h2.2v2.6h-2.2zM535.3,154.4h2.2v2.6h-2.2z" fill="#1a1a1a"/>
<path d="M419.2,239.4V243.6M418.2,239.4h2M418.2,243.6h2M421.2,235.9V240.1M420.2,235.9h2M420.2,240.1h2M423.1,230.8V235M422.1,230.8h2M422.1,235h2M425.1,224.9V229.1M424.1,224.9h2M424.1,229.1h2M427,218.2V222.4M426,218.2h2M426,222.4h2M429,209.8V214M428,209.8h2M428,214h2M430.9,200.2V204.4M429.9,200.2h2M429.9,204.4h2M432.9,194.7V198.9M431.9,194.7h2M431.9,198.9h2M434.8,185.7V189.9M433.8,185.7h2M433.8,189.9h2M436.8,180.5V184.7M435.8,180.5h2M435.8,184.7h2M438.7,175.3V179.5M437.7,175.3h2M437.7,179.5h2M448.5,168.1V172.3M447.5,168.1h2M447.5,172.3h2M458.3,161.4V165.6M457.3,161.4h2M457.3,165.6h2M477.8,158.3V162.5M476.8,158.3h2M476.8,162.5h2M497.3,154.9V159.1M496.3,154.9h2M496.3,159.1h2M516.9,154.9V159.1M515.9,154.9h2M515.9,159.1h2M536.4,153.6V157.8M535.4,153.6h2M535.4,157.8h2" stroke="#1a1a1a" stroke-width="0.8" fill="none"/>
<path d="M417.6,151V244.3H544.4" fill="none" stroke="#2a2a2a" stroke-width="1.2"/>
<path d="M419.2,244.3v2.2M438.7,244.3v2.2M458.3,244.3v2.2M477.8,244.3v2.2M497.3,244.3v2.2M516.9,244.3v2.2M536.4,244.3v2.2M429,244.3v1.4M448.5,244.3v1.4M468,244.3v1.4M487.6,244.3v1.4M507.1,244.3v1.4M526.6,244.3v1.4M417.6,243.9h-2.2M417.6,220.6h-2.2M417.6,197.4h-2.2M417.6,174.1h-2.2M417.6,232.3h-1.4M417.6,209h-1.4M417.6,185.8h-1.4M417.6,162.5h-1.4" fill="none" stroke="#2a2a2a" stroke-width="1"/>
<text x="419.2" y="253.9" font-size="7.6" text-anchor="middle" font-weight="bold">0</text>
<text x="438.7" y="253.9" font-size="7.6" text-anchor="middle" font-weight="bold">10</text>
<text x="458.3" y="253.9" font-size="7.6" text-anchor="middle" font-weight="bold">20</text>
<text x="477.8" y="253.9" font-size="7.6" text-anchor="middle" font-weight="bold">30</text>
<text x="497.3" y="253.9" font-size="7.6" text-anchor="middle" font-weight="bold">40</text>
<text x="516.9" y="253.9" font-size="7.6" text-anchor="middle" font-weight="bold">50</text>
<text x="536.4" y="253.9" font-size="7.6" text-anchor="middle" font-weight="bold">60</text>
<text x="415" y="246.5" font-size="7.6" text-anchor="end" font-weight="bold">0</text>
<text x="415" y="223.2" font-size="7.6" text-anchor="end" font-weight="bold">200</text>
<text x="415" y="200" font-size="7.6" text-anchor="end" font-weight="bold">400</text>
<text x="415" y="176.7" font-size="7.6" text-anchor="end" font-weight="bold">600</text>
<text transform="translate(397.7,237.9) rotate(-90)" font-size="7.5" text-anchor="start" font-weight="bold">Fluorescence intensity</text>
<text x="481" y="260" font-size="7.6" text-anchor="middle" font-weight="bold">Hcy / &#956;M</text>
<text x="446" y="151.4" font-size="10.6" font-weight="bold">&#955;<tspan x="450.6" y="153.4" font-size="7.6">em</tspan><tspan x="462.9" y="151.4">470 nm</tspan></text>
<text class="l" x="388.6" y="152.8" font-size="15" font-weight="normal">f)</text>
<path d="M475.6,178.4V228.3H543.8" fill="none" stroke="#2a2a2a" stroke-width="1.0"/>
<path d="M479.4,228.3v1.5M487.5,228.3v1.5M495.5,228.3v1.5M503.6,228.3v1.5M511.6,228.3v1.5M519.7,228.3v1.5M527.8,228.3v1.5M535.8,228.3v1.5M475.6,226.4h-1.5M475.6,215.7h-1.5M475.6,204.9h-1.5M475.6,194.2h-1.5M475.6,183.5h-1.5M475.6,221h-1.0M475.6,210.3h-1.0M475.6,199.6h-1.0M475.6,188.8h-1.0M475.6,178.1h-1.0" fill="none" stroke="#2a2a2a" stroke-width="1"/>
<text x="479.4" y="234.3" font-size="5.6" text-anchor="middle" font-weight="bold">0</text>
<text x="487.5" y="234.3" font-size="5.6" text-anchor="middle" font-weight="bold">1</text>
<text x="495.5" y="234.3" font-size="5.6" text-anchor="middle" font-weight="bold">2</text>
<text x="503.6" y="234.3" font-size="5.6" text-anchor="middle" font-weight="bold">3</text>
<text x="511.6" y="234.3" font-size="5.6" text-anchor="middle" font-weight="bold">4</text>
<text x="519.7" y="234.3" font-size="5.6" text-anchor="middle" font-weight="bold">5</text>
<text x="527.8" y="234.3" font-size="5.6" text-anchor="middle" font-weight="bold">6</text>
<text x="535.8" y="234.3" font-size="5.6" text-anchor="middle" font-weight="bold">7</text>
<text x="473.3" y="228.3" font-size="5.6" text-anchor="end" font-weight="bold">0</text>
<text x="473.3" y="217.6" font-size="5.6" text-anchor="end" font-weight="bold">100</text>
<text x="473.3" y="206.8" font-size="5.6" text-anchor="end" font-weight="bold">200</text>
<text x="473.3" y="196.1" font-size="5.6" text-anchor="end" font-weight="bold">300</text>
<text x="473.3" y="185.4" font-size="5.6" text-anchor="end" font-weight="bold">400</text>
<path d="M475.6,229.9L543.8,177.8" stroke="#F03838" stroke-width="1.1"/>
<path d="M478.6,223.5h1.6v1.6h-1.6zM486.7,220h1.6v1.6h-1.6zM494.7,214.9h1.6v1.6h-1.6zM502.8,210.6h1.6v1.6h-1.6zM510.8,203.6h1.6v1.6h-1.6zM518.9,196.1h1.6v1.6h-1.6zM527,187.6h1.6v1.6h-1.6zM535,182.7h1.6v1.6h-1.6z" fill="#222"/>
<text x="477.8" y="184.6" font-size="5.3" text-anchor="start" font-weight="bold">y=-5.95+57.4321x</text>
<text x="477.8" y="192.5" font-size="5.3" text-anchor="start" font-weight="bold">R<tspan font-size="3.8" dy="-2.2">2</tspan><tspan dy="2.2">=0.9921</tspan></text>
<text x="509.3" y="241.8" font-size="5.3" text-anchor="middle" font-weight="bold">Hcy / &#956;M</text>
<text transform="translate(462.2,200.9) rotate(-90)" font-size="5.2" text-anchor="middle" font-weight="bold">Fluorescence intensity</text>
<polyline points="36.7,376.9 38.3,376.9 39.9,376.9 41.5,376.9 43.1,376.9 44.7,376.9 46.3,376.9 47.9,376.9 49.5,376.9 51.1,376.9 52.7,376.9 54.2,376.9 55.8,376.8 57.4,376.8 59,376.8 60.6,376.8 62.2,376.7 63.8,376.7 65.4,376.6 67,376.6 68.6,376.5 70.2,376.4 71.8,376.4 73.4,376.3 75,376.3 76.6,376.2 78.2,376.2 79.8,376.1 81.4,376.1 83,376.1 84.6,376.1 86.1,376.1 87.7,376.1 89.3,376.2 90.9,376.2 92.5,376.2 94.1,376.2 95.7,376.3 97.3,376.3 98.9,376.3 100.5,376.4 102.1,376.4 103.7,376.5 105.3,376.5 106.9,376.5 108.5,376.6 110.1,376.6 111.7,376.7 113.3,376.7 114.9,376.7 116.5,376.8 118,376.8 119.6,376.8 121.2,376.9 122.8,376.9 124.4,376.9 126,376.9 127.6,376.9 129.2,376.9 130.8,377 132.4,377 134,377 135.6,377 137.2,377 138.8,377 140.4,377 142,377 143.6,377 145.2,377 146.8,377 148.4,377 149.9,377 151.5,377.1 153.1,377.1 154.7,377.1 156.3,377.1 157.9,377.1 159.5,377.1 161.1,377.1 162.7,377.1 164.3,377.1" fill="none" stroke="#707070" stroke-width="0.8" stroke-linejoin="round"/>
<polyline points="36.7,376.8 38.3,376.8 39.9,376.8 41.5,376.8 43.1,376.8 44.7,376.8 46.3,376.8 47.9,376.8 49.5,376.8 51.1,376.8 52.7,376.8 54.2,376.7 55.8,376.7 57.4,376.7 59,376.6 60.6,376.6 62.2,376.5 63.8,376.4 65.4,376.3 67,376.2 68.6,376.1 70.2,376.1 71.8,375.9 73.4,375.8 75,375.7 76.6,375.7 78.2,375.6 79.8,375.5 81.4,375.5 83,375.5 84.6,375.5 86.1,375.5 87.7,375.5 89.3,375.6 90.9,375.6 92.5,375.7 94.1,375.7 95.7,375.8 97.3,375.8 98.9,375.9 100.5,375.9 102.1,376 103.7,376.1 105.3,376.1 106.9,376.2 108.5,376.3 110.1,376.3 111.7,376.4 113.3,376.5 114.9,376.5 116.5,376.6 118,376.6 119.6,376.7 121.2,376.7 122.8,376.7 124.4,376.8 126,376.8 127.6,376.8 129.2,376.9 130.8,376.9 132.4,376.9 134,376.9 135.6,376.9 137.2,376.9 138.8,377 140.4,377 142,377 143.6,377 145.2,377 146.8,377 148.4,377 149.9,377 151.5,377 153.1,377 154.7,377 156.3,377 157.9,377 159.5,377 161.1,377 162.7,377.1 164.3,377.1" fill="none" stroke="#303030" stroke-width="1.1" stroke-linejoin="round"/>
<polyline points="36.7,376 38.3,376 39.9,376 41.5,376 43.1,376 44.7,375.9 46.3,375.9 47.9,375.9 49.5,375.8 51.1,375.7 52.7,375.5 54.2,375.4 55.8,375.2 57.4,375 59,374.8 60.6,374.5 62.2,374.1 63.8,373.7 65.4,373.2 67,372.7 68.6,372.2 70.2,371.7 71.8,371.2 73.4,370.6 75,370.1 76.6,369.6 78.2,369.3 79.8,369 81.4,368.8 83,368.8 84.6,368.8 86.1,368.9 87.7,369 89.3,369.2 90.9,369.4 92.5,369.6 94.1,369.9 95.7,370.1 97.3,370.4 98.9,370.7 100.5,371 102.1,371.4 103.7,371.7 105.3,372.1 106.9,372.4 108.5,372.8 110.1,373.1 111.7,373.4 113.3,373.8 114.9,374.1 116.5,374.4 118,374.6 119.6,374.8 121.2,375 122.8,375.2 124.4,375.4 126,375.6 127.6,375.7 129.2,375.8 130.8,375.9 132.4,376.1 134,376.1 135.6,376.2 137.2,376.3 138.8,376.4 140.4,376.4 142,376.5 143.6,376.5 145.2,376.6 146.8,376.6 148.4,376.6 149.9,376.7 151.5,376.7 153.1,376.7 154.7,376.8 156.3,376.8 157.9,376.8 159.5,376.8 161.1,376.8 162.7,376.8 164.3,376.9" fill="none" stroke="#F04444" stroke-width="1.1" stroke-linejoin="round"/>
<polyline points="36.7,375.7 38.3,375.7 39.9,375.7 41.5,375.7 43.1,375.7 44.7,375.6 46.3,375.5 47.9,375.4 49.5,375.3 51.1,375.1 52.7,374.9 54.2,374.6 55.8,374.3 57.4,373.9 59,373.6 60.6,373 62.2,372.4 63.8,371.7 65.4,370.9 67,370.1 68.6,369.3 70.2,368.5 71.8,367.5 73.4,366.6 75,365.8 76.6,365 78.2,364.4 79.8,364 81.4,363.6 83,363.5 84.6,363.6 86.1,363.8 87.7,364 89.3,364.3 90.9,364.6 92.5,364.9 94.1,365.3 95.7,365.8 97.3,366.2 98.9,366.7 100.5,367.2 102.1,367.8 103.7,368.3 105.3,368.9 106.9,369.5 108.5,370.1 110.1,370.6 111.7,371.2 113.3,371.7 114.9,372.2 116.5,372.6 118,373 119.6,373.4 121.2,373.8 122.8,374.1 124.4,374.4 126,374.6 127.6,374.9 129.2,375.1 130.8,375.2 132.4,375.4 134,375.6 135.6,375.7 137.2,375.8 138.8,375.9 140.4,376 142,376.1 143.6,376.2 145.2,376.3 146.8,376.3 148.4,376.4 149.9,376.4 151.5,376.5 153.1,376.5 154.7,376.5 156.3,376.6 157.9,376.6 159.5,376.6 161.1,376.7 162.7,376.7 164.3,376.7" fill="none" stroke="#30D848" stroke-width="1.1" stroke-linejoin="round"/>
<polyline points="36.7,375.5 38.3,375.5 39.9,375.5 41.5,375.4 43.1,375.4 44.7,375.3 46.3,375.2 47.9,375 49.5,374.8 51.1,374.6 52.7,374.2 54.2,373.8 55.8,373.4 57.4,373 59,372.4 60.6,371.7 62.2,370.9 63.8,369.9 65.4,368.8 67,367.7 68.6,366.6 70.2,365.5 71.8,364.2 73.4,362.9 75,361.7 76.6,360.7 78.2,359.9 79.8,359.3 81.4,358.8 83,358.7 84.6,358.8 86.1,359 87.7,359.3 89.3,359.7 90.9,360.1 92.5,360.6 94.1,361.1 95.7,361.7 97.3,362.3 98.9,363 100.5,363.6 102.1,364.4 103.7,365.2 105.3,366 106.9,366.8 108.5,367.6 110.1,368.3 111.7,369 113.3,369.8 114.9,370.4 116.5,371.1 118,371.6 119.6,372.1 121.2,372.6 122.8,373 124.4,373.4 126,373.8 127.6,374.1 129.2,374.3 130.8,374.6 132.4,374.8 134,375 135.6,375.2 137.2,375.4 138.8,375.5 140.4,375.6 142,375.8 143.6,375.9 145.2,376 146.8,376 148.4,376.1 149.9,376.2 151.5,376.2 153.1,376.3 154.7,376.4 156.3,376.4 157.9,376.4 159.5,376.5 161.1,376.5 162.7,376.6 164.3,376.6" fill="none" stroke="#3C3CE0" stroke-width="1.1" stroke-linejoin="round"/>
<polyline points="36.7,375.3 38.3,375.3 39.9,375.2 41.5,375.2 43.1,375.1 44.7,375 46.3,374.8 47.9,374.7 49.5,374.4 51.1,374 52.7,373.6 54.2,373.1 55.8,372.6 57.4,372 59,371.3 60.6,370.4 62.2,369.3 63.8,368.1 65.4,366.7 67,365.3 68.6,363.9 70.2,362.5 71.8,360.9 73.4,359.2 75,357.8 76.6,356.5 78.2,355.5 79.8,354.7 81.4,354.1 83,354 84.6,354.1 86.1,354.3 87.7,354.7 89.3,355.2 90.9,355.7 92.5,356.3 94.1,357 95.7,357.7 97.3,358.5 98.9,359.3 100.5,360.2 102.1,361.1 103.7,362.1 105.3,363.2 106.9,364.2 108.5,365.1 110.1,366 111.7,367 113.3,367.9 114.9,368.7 116.5,369.5 118,370.2 119.6,370.8 121.2,371.4 122.8,372 124.4,372.5 126,372.9 127.6,373.3 129.2,373.6 130.8,373.9 132.4,374.2 134,374.5 135.6,374.7 137.2,374.9 138.8,375.1 140.4,375.3 142,375.4 143.6,375.5 145.2,375.7 146.8,375.8 148.4,375.9 149.9,376 151.5,376 153.1,376.1 154.7,376.2 156.3,376.2 157.9,376.3 159.5,376.3 161.1,376.4 162.7,376.4 164.3,376.5" fill="none" stroke="#30E0EC" stroke-width="1.1" stroke-linejoin="round"/>
<polyline points="36.7,375 38.3,375 39.9,374.9 41.5,374.8 43.1,374.7 44.7,374.5 46.3,374.3 47.9,374.1 49.5,373.7 51.1,373.3 52.7,372.7 54.2,372.1 55.8,371.4 57.4,370.6 59,369.7 60.6,368.6 62.2,367.2 63.8,365.6 65.4,363.8 67,362 68.6,360.2 70.2,358.3 71.8,356.2 73.4,354.1 75,352.3 76.6,350.6 78.2,349.3 79.8,348.2 81.4,347.4 83,347.3 84.6,347.5 86.1,347.7 87.7,348.2 89.3,348.8 90.9,349.5 92.5,350.3 94.1,351.2 95.7,352.1 97.3,353.1 98.9,354.2 100.5,355.3 102.1,356.5 103.7,357.8 105.3,359.1 106.9,360.4 108.5,361.6 110.1,362.8 111.7,364 113.3,365.2 114.9,366.3 116.5,367.3 118,368.2 119.6,369 121.2,369.8 122.8,370.5 124.4,371.1 126,371.7 127.6,372.2 129.2,372.6 130.8,373 132.4,373.4 134,373.7 135.6,374 137.2,374.3 138.8,374.5 140.4,374.7 142,374.9 143.6,375.1 145.2,375.3 146.8,375.4 148.4,375.5 149.9,375.6 151.5,375.7 153.1,375.8 154.7,375.9 156.3,376 157.9,376 159.5,376.1 161.1,376.2 162.7,376.2 164.3,376.3" fill="none" stroke="#F040F0" stroke-width="1.1" stroke-linejoin="round"/>
<polyline points="36.7,374.7 38.3,374.7 39.9,374.6 41.5,374.5 43.1,374.4 44.7,374.2 46.3,374 47.9,373.7 49.5,373.2 51.1,372.7 52.7,372 54.2,371.3 55.8,370.5 57.4,369.6 59,368.5 60.6,367.2 62.2,365.5 63.8,363.6 65.4,361.6 67,359.4 68.6,357.3 70.2,355.1 71.8,352.6 73.4,350.1 75,347.9 76.6,346 78.2,344.4 79.8,343.2 81.4,342.2 83,342.1 84.6,342.3 86.1,342.6 87.7,343.1 89.3,343.9 90.9,344.7 92.5,345.6 94.1,346.6 95.7,347.7 97.3,348.9 98.9,350.1 100.5,351.5 102.1,352.9 103.7,354.4 105.3,356 106.9,357.5 108.5,358.9 110.1,360.3 111.7,361.7 113.3,363.1 114.9,364.4 116.5,365.6 118,366.6 119.6,367.6 121.2,368.5 122.8,369.3 124.4,370.1 126,370.8 127.6,371.3 129.2,371.9 130.8,372.3 132.4,372.8 134,373.2 135.6,373.5 137.2,373.8 138.8,374.1 140.4,374.3 142,374.6 143.6,374.8 145.2,374.9 146.8,375.1 148.4,375.3 149.9,375.4 151.5,375.5 153.1,375.6 154.7,375.7 156.3,375.8 157.9,375.9 159.5,375.9 161.1,376 162.7,376.1 164.3,376.2" fill="none" stroke="#F4F030" stroke-width="1.1" stroke-linejoin="round"/>
<polyline points="36.7,374.5 38.3,374.5 39.9,374.4 41.5,374.3 43.1,374.1 44.7,373.9 46.3,373.6 47.9,373.3 49.5,372.8 51.1,372.2 52.7,371.5 54.2,370.6 55.8,369.7 57.4,368.7 59,367.5 60.6,366 62.2,364.1 63.8,362 65.4,359.7 67,357.2 68.6,354.8 70.2,352.4 71.8,349.6 73.4,346.7 75,344.3 76.6,342.1 78.2,340.3 79.8,339 81.4,337.9 83,337.7 84.6,338 86.1,338.3 87.7,338.9 89.3,339.7 90.9,340.6 92.5,341.7 94.1,342.8 95.7,344.1 97.3,345.4 98.9,346.8 100.5,348.3 102.1,349.9 103.7,351.6 105.3,353.4 106.9,355.1 108.5,356.7 110.1,358.2 111.7,359.8 113.3,361.4 114.9,362.8 116.5,364.2 118,365.3 119.6,366.4 121.2,367.4 122.8,368.4 124.4,369.2 126,370 127.6,370.6 129.2,371.2 130.8,371.8 132.4,372.2 134,372.7 135.6,373.1 137.2,373.4 138.8,373.7 140.4,374 142,374.2 143.6,374.5 145.2,374.7 146.8,374.9 148.4,375 149.9,375.2 151.5,375.3 153.1,375.4 154.7,375.5 156.3,375.6 157.9,375.7 159.5,375.8 161.1,375.9 162.7,376 164.3,376.1" fill="none" stroke="#A0A040" stroke-width="1.1" stroke-linejoin="round"/>
<polyline points="36.7,374.3 38.3,374.3 39.9,374.2 41.5,374 43.1,373.8 44.7,373.5 46.3,373.3 47.9,372.9 49.5,372.3 51.1,371.6 52.7,370.8 54.2,369.8 55.8,368.8 57.4,367.6 59,366.3 60.6,364.5 62.2,362.4 63.8,360 65.4,357.4 67,354.6 68.6,351.9 70.2,349.1 71.8,346 73.4,342.7 75,340 76.6,337.5 78.2,335.5 79.8,333.9 81.4,332.7 83,332.5 84.6,332.8 86.1,333.2 87.7,333.8 89.3,334.8 90.9,335.8 92.5,337 94.1,338.3 95.7,339.7 97.3,341.2 98.9,342.8 100.5,344.4 102.1,346.3 103.7,348.3 105.3,350.2 106.9,352.1 108.5,353.9 110.1,355.7 111.7,357.6 113.3,359.3 114.9,361 116.5,362.5 118,363.8 119.6,365 121.2,366.2 122.8,367.2 124.4,368.2 126,369.1 127.6,369.8 129.2,370.4 130.8,371 132.4,371.6 134,372.1 135.6,372.5 137.2,372.9 138.8,373.3 140.4,373.6 142,373.9 143.6,374.1 145.2,374.4 146.8,374.6 148.4,374.8 149.9,374.9 151.5,375.1 153.1,375.2 154.7,375.3 156.3,375.4 157.9,375.5 159.5,375.6 161.1,375.7 162.7,375.8 164.3,375.9" fill="none" stroke="#3A3AA0" stroke-width="1.1" stroke-linejoin="round"/>
<polyline points="36.7,374.1 38.3,374.1 39.9,374 41.5,373.8 43.1,373.6 44.7,373.3 46.3,373 47.9,372.6 49.5,372 51.1,371.2 52.7,370.3 54.2,369.3 55.8,368.1 57.4,366.9 59,365.5 60.6,363.6 62.2,361.3 63.8,358.7 65.4,355.9 67,352.9 68.6,349.9 70.2,346.9 71.8,343.5 73.4,340.1 75,337.1 76.6,334.4 78.2,332.2 79.8,330.6 81.4,329.3 83,329 84.6,329.3 86.1,329.7 87.7,330.4 89.3,331.5 90.9,332.6 92.5,333.8 94.1,335.3 95.7,336.8 97.3,338.4 98.9,340.1 100.5,341.9 102.1,343.9 103.7,346 105.3,348.1 106.9,350.2 108.5,352.1 110.1,354.1 111.7,356 113.3,357.9 114.9,359.7 116.5,361.3 118,362.7 119.6,364.1 121.2,365.3 122.8,366.5 124.4,367.5 126,368.4 127.6,369.2 129.2,369.9 130.8,370.6 132.4,371.2 134,371.7 135.6,372.2 137.2,372.6 138.8,373 140.4,373.3 142,373.6 143.6,373.9 145.2,374.2 146.8,374.4 148.4,374.6 149.9,374.8 151.5,374.9 153.1,375 154.7,375.2 156.3,375.3 157.9,375.4 159.5,375.5 161.1,375.6 162.7,375.7 164.3,375.8" fill="none" stroke="#A048A8" stroke-width="1.1" stroke-linejoin="round"/>
<polyline points="36.7,374 38.3,374 39.9,373.9 41.5,373.7 43.1,373.4 44.7,373.1 46.3,372.8 47.9,372.4 49.5,371.8 51.1,371 52.7,370 54.2,368.9 55.8,367.7 57.4,366.4 59,364.9 60.6,362.9 62.2,360.5 63.8,357.8 65.4,354.8 67,351.7 68.6,348.6 70.2,345.4 71.8,341.9 73.4,338.2 75,335.1 76.6,332.2 78.2,329.9 79.8,328.2 81.4,326.9 83,326.6 84.6,326.9 86.1,327.3 87.7,328.1 89.3,329.2 90.9,330.3 92.5,331.7 94.1,333.2 95.7,334.8 97.3,336.5 98.9,338.2 100.5,340.1 102.1,342.2 103.7,344.4 105.3,346.7 106.9,348.8 108.5,350.9 110.1,352.9 111.7,355 113.3,356.9 114.9,358.8 116.5,360.5 118,362 119.6,363.4 121.2,364.7 122.8,365.9 124.4,367 126,368 127.6,368.8 129.2,369.6 130.8,370.2 132.4,370.9 134,371.4 135.6,371.9 137.2,372.4 138.8,372.8 140.4,373.1 142,373.4 143.6,373.7 145.2,374 146.8,374.2 148.4,374.5 149.9,374.6 151.5,374.8 153.1,374.9 154.7,375.1 156.3,375.2 157.9,375.3 159.5,375.4 161.1,375.5 162.7,375.7 164.3,375.8" fill="none" stroke="#B04848" stroke-width="1.1" stroke-linejoin="round"/>
<polyline points="36.7,373.7 38.3,373.6 39.9,373.5 41.5,373.3 43.1,373 44.7,372.7 46.3,372.3 47.9,371.8 49.5,371.1 51.1,370.2 52.7,369.1 54.2,367.8 55.8,366.4 57.4,364.9 59,363.2 60.6,360.9 62.2,358.2 63.8,355.1 65.4,351.7 67,348.1 68.6,344.6 70.2,341 71.8,336.9 73.4,332.7 75,329.1 76.6,325.9 78.2,323.3 79.8,321.3 81.4,319.7 83,319.5 84.6,319.8 86.1,320.3 87.7,321.1 89.3,322.4 90.9,323.7 92.5,325.2 94.1,326.9 95.7,328.8 97.3,330.7 98.9,332.7 100.5,334.9 102.1,337.3 103.7,339.8 105.3,342.4 106.9,344.8 108.5,347.2 110.1,349.5 111.7,351.8 113.3,354.1 114.9,356.2 116.5,358.2 118,359.9 119.6,361.5 121.2,363 122.8,364.4 124.4,365.6 126,366.7 127.6,367.6 129.2,368.5 130.8,369.3 132.4,370 134,370.6 135.6,371.2 137.2,371.7 138.8,372.2 140.4,372.6 142,372.9 143.6,373.3 145.2,373.6 146.8,373.8 148.4,374.1 149.9,374.3 151.5,374.5 153.1,374.6 154.7,374.8 156.3,374.9 157.9,375.1 159.5,375.2 161.1,375.3 162.7,375.5 164.3,375.6" fill="none" stroke="#30A050" stroke-width="1.1" stroke-linejoin="round"/>
<polyline points="36.7,373.3 38.3,373.2 39.9,373 41.5,372.8 43.1,372.4 44.7,372 46.3,371.6 47.9,371 49.5,370.2 51.1,369.1 52.7,367.8 54.2,366.4 55.8,364.8 57.4,363 59,361 60.6,358.3 62.2,355.1 63.8,351.5 65.4,347.5 67,343.4 68.6,339.2 70.2,335.1 71.8,330.3 73.4,325.4 75,321.2 76.6,317.5 78.2,314.4 79.8,312.1 81.4,310.3 83,310 84.6,310.4 86.1,310.9 87.7,311.9 89.3,313.4 90.9,314.9 92.5,316.7 94.1,318.7 95.7,320.8 97.3,323.1 98.9,325.4 100.5,327.9 102.1,330.7 103.7,333.7 105.3,336.6 106.9,339.5 108.5,342.2 110.1,345 111.7,347.7 113.3,350.3 114.9,352.8 116.5,355.1 118,357 119.6,358.9 121.2,360.6 122.8,362.3 124.4,363.7 126,365 127.6,366.1 129.2,367.1 130.8,368 132.4,368.8 134,369.6 135.6,370.3 137.2,370.8 138.8,371.3 140.4,371.8 142,372.2 143.6,372.6 145.2,373 146.8,373.3 148.4,373.6 149.9,373.8 151.5,374 153.1,374.2 154.7,374.4 156.3,374.6 157.9,374.7 159.5,374.9 161.1,375 162.7,375.2 164.3,375.4" fill="none" stroke="#3AA8A8" stroke-width="1.1" stroke-linejoin="round"/>
<polyline points="36.7,372.8 38.3,372.7 39.9,372.5 41.5,372.2 43.1,371.9 44.7,371.4 46.3,370.9 47.9,370.2 49.5,369.3 51.1,368.1 52.7,366.6 54.2,364.9 55.8,363.1 57.4,361 59,358.7 60.6,355.7 62.2,352.1 63.8,347.9 65.4,343.4 67,338.6 68.6,333.9 70.2,329.1 71.8,323.6 73.4,318.1 75,313.3 76.6,309 78.2,305.5 79.8,302.9 81.4,300.8 83,300.4 84.6,300.8 86.1,301.5 87.7,302.6 89.3,304.3 90.9,306 92.5,308.1 94.1,310.3 95.7,312.8 97.3,315.3 98.9,318 100.5,320.9 102.1,324.1 103.7,327.5 105.3,330.9 106.9,334.2 108.5,337.3 110.1,340.4 111.7,343.5 113.3,346.5 114.9,349.3 116.5,351.9 118,354.2 119.6,356.3 121.2,358.3 122.8,360.1 124.4,361.8 126,363.3 127.6,364.5 129.2,365.7 130.8,366.7 132.4,367.7 134,368.5 135.6,369.3 137.2,370 138.8,370.5 140.4,371.1 142,371.6 143.6,372 145.2,372.4 146.8,372.8 148.4,373.1 149.9,373.4 151.5,373.6 153.1,373.8 154.7,374 156.3,374.2 157.9,374.4 159.5,374.6 161.1,374.7 162.7,374.9 164.3,375.1" fill="none" stroke="#4848B8" stroke-width="1.1" stroke-linejoin="round"/>
<polyline points="36.7,372.8 38.3,372.7 39.9,372.5 41.5,372.2 43.1,371.8 44.7,371.3 46.3,370.8 47.9,370.1 49.5,369.2 51.1,367.9 52.7,366.4 54.2,364.7 55.8,362.8 57.4,360.8 59,358.5 60.6,355.4 62.2,351.7 63.8,347.4 65.4,342.8 67,338.1 68.6,333.2 70.2,328.4 71.8,322.8 73.4,317.2 75,312.3 76.6,308 78.2,304.4 79.8,301.7 81.4,299.6 83,299.2 84.6,299.7 86.1,300.4 87.7,301.5 89.3,303.2 90.9,305 92.5,307 94.1,309.3 95.7,311.8 97.3,314.4 98.9,317.1 100.5,320.1 102.1,323.3 103.7,326.7 105.3,330.2 106.9,333.5 108.5,336.7 110.1,339.8 111.7,343 113.3,346 114.9,348.9 116.5,351.5 118,353.8 119.6,356 121.2,358 122.8,359.9 124.4,361.6 126,363.1 127.6,364.3 129.2,365.5 130.8,366.5 132.4,367.5 134,368.4 135.6,369.2 137.2,369.8 138.8,370.4 140.4,371 142,371.5 143.6,371.9 145.2,372.3 146.8,372.7 148.4,373 149.9,373.3 151.5,373.6 153.1,373.8 154.7,374 156.3,374.2 157.9,374.4 159.5,374.5 161.1,374.7 162.7,374.9 164.3,375.1" fill="none" stroke="#EC9448" stroke-width="1.1" stroke-linejoin="round"/>
<polyline points="36.7,372.5 38.3,372.4 39.9,372.2 41.5,371.9 43.1,371.4 44.7,370.9 46.3,370.4 47.9,369.7 49.5,368.6 51.1,367.3 52.7,365.7 54.2,363.8 55.8,361.8 57.4,359.6 59,357.1 60.6,353.8 62.2,349.7 63.8,345.2 65.4,340.2 67,335.1 68.6,329.8 70.2,324.6 71.8,318.7 73.4,312.6 75,307.3 76.6,302.7 78.2,298.8 79.8,295.9 81.4,293.7 83,293.2 84.6,293.7 86.1,294.5 87.7,295.7 89.3,297.5 90.9,299.4 92.5,301.6 94.1,304.1 95.7,306.8 97.3,309.6 98.9,312.5 100.5,315.7 102.1,319.2 103.7,322.8 105.3,326.6 106.9,330.2 108.5,333.5 110.1,336.9 111.7,340.3 113.3,343.6 114.9,346.7 116.5,349.6 118,352 119.6,354.4 121.2,356.5 122.8,358.6 124.4,360.4 126,362 127.6,363.4 129.2,364.6 130.8,365.7 132.4,366.8 134,367.7 135.6,368.6 137.2,369.3 138.8,369.9 140.4,370.5 142,371 143.6,371.5 145.2,372 146.8,372.4 148.4,372.7 149.9,373 151.5,373.3 153.1,373.5 154.7,373.8 156.3,374 157.9,374.1 159.5,374.3 161.1,374.5 162.7,374.7 164.3,374.9" fill="none" stroke="#F03084" stroke-width="1.3" stroke-linejoin="round"/>
<path d="M36.8,285.5V377.8H163.6" fill="none" stroke="#2a2a2a" stroke-width="1.2"/>
<path d="M36.7,377.8v2.2M68.6,377.8v2.2M100.5,377.8v2.2M132.4,377.8v2.2M164.3,377.8v2.2M52.7,377.8v1.4M84.6,377.8v1.4M116.5,377.8v1.4M148.4,377.8v1.4M36.8,377.1h-2.2M36.8,357.7h-2.2M36.8,338.3h-2.2M36.8,318.9h-2.2M36.8,299.5h-2.2M36.8,367.4h-1.4M36.8,348h-1.4M36.8,328.6h-1.4M36.8,309.2h-1.4M36.8,289.8h-1.4" fill="none" stroke="#2a2a2a" stroke-width="1"/>
<text x="36.7" y="387.4" font-size="7.6" text-anchor="middle" font-weight="bold">400</text>
<text x="68.6" y="387.4" font-size="7.6" text-anchor="middle" font-weight="bold">450</text>
<text x="100.5" y="387.4" font-size="7.6" text-anchor="middle" font-weight="bold">500</text>
<text x="132.4" y="387.4" font-size="7.6" text-anchor="middle" font-weight="bold">550</text>
<text x="34.2" y="379.7" font-size="7.6" text-anchor="end" font-weight="bold">0</text>
<text x="34.2" y="360.3" font-size="7.6" text-anchor="end" font-weight="bold">200</text>
<text x="34.2" y="340.9" font-size="7.6" text-anchor="end" font-weight="bold">400</text>
<text x="34.2" y="321.5" font-size="7.6" text-anchor="end" font-weight="bold">600</text>
<text x="34.2" y="302.1" font-size="7.6" text-anchor="end" font-weight="bold">800</text>
<text transform="translate(12.8,357.2) rotate(-90)" font-size="7.5" text-anchor="start" font-weight="bold">Fluorescence intensity</text>
<text x="97.4" y="396.8" font-size="7.6" text-anchor="middle" font-weight="bold">Wavelength / nm</text>
<text x="69.8" y="287" font-size="10.6" font-weight="bold">&#955;<tspan x="74.4" y="289" font-size="7.6">ex</tspan><tspan x="83.9" y="287">355 nm</tspan></text>
<text class="l" x="5.2" y="283" font-size="15" font-weight="normal">g)</text>
<text x="119.1" y="317.9" font-size="7.6" text-anchor="start" font-weight="bold">60.0 &#956;M</text>
<path d="M127.4,336.3V323" stroke="#1a1a1a" stroke-width="0.9"/>
<path d="M125.9,323.7L127.4,320.5L128.9,323.7Z" fill="#1a1a1a"/>
<text x="133.3" y="331.4" font-size="7.6" text-anchor="start" font-weight="bold">GSH</text>
<text x="122.6" y="343.3" font-size="7.6" text-anchor="start" font-weight="bold">0.0</text>
<polyline points="227.1,369.5 228.4,369.8 229.6,370 230.9,370.1 232.2,370.2 233.5,370 234.7,369.5 236,368.9 237.3,368.1 238.6,366.9 239.8,365.8 241.1,364.8 242.4,364.1 243.7,364.2 244.9,364.7 246.2,365.4 247.5,366.3 248.7,367.1 250,367.6 251.3,367.9 252.6,368.1 253.8,368.3 255.1,368.5 256.4,368.6 257.7,368.8 258.9,368.9 260.2,369.1 261.5,369.2 262.8,369.3 264,369.5 265.3,369.6 266.6,369.8 267.9,370 269.1,370.1 270.4,370.3 271.7,370.4 272.9,370.6 274.2,370.8 275.5,370.9 276.8,371.1 278,371.3 279.3,371.5 280.6,371.6 281.9,371.8 283.1,372 284.4,372.2 285.7,372.3 287,372.5 288.2,372.6 289.5,372.8 290.8,372.9 292,373.1 293.3,373.2 294.6,373.4 295.9,373.5 297.1,373.6 298.4,373.8 299.7,373.9 301,374 302.2,374.1 303.5,374.2 304.8,374.3 306.1,374.4 307.3,374.5 308.6,374.6 309.9,374.7 311.2,374.7 312.4,374.8 313.7,374.9 315,375 316.2,375 317.5,375.1 318.8,375.2 320.1,375.2 321.3,375.3 322.6,375.3 323.9,375.4 325.2,375.4 326.4,375.5 327.7,375.5 329,375.5 330.3,375.6 331.5,375.6 332.8,375.6 334.1,375.7 335.3,375.7 336.6,375.7 337.9,375.8 339.2,375.8 340.4,375.8 341.7,375.8 343,375.8 344.3,375.8 345.5,375.9 346.8,375.9 348.1,375.9 349.4,375.9 350.6,375.9 351.9,375.9 353.2,375.9 354.4,375.9" fill="none" stroke="#303030" stroke-width="1.4" stroke-linejoin="round"/>
<polyline points="227.1,368.5 228.4,368.9 229.6,369.1 230.9,369.3 232.2,369.5 233.5,369.3 234.7,368.8 236,368.3 237.3,367.5 238.6,366.3 239.8,365.2 241.1,364.2 242.4,363.5 243.7,363.6 244.9,364.2 246.2,364.9 247.5,365.8 248.7,366.7 250,367.2 251.3,367.5 252.6,367.7 253.8,367.9 255.1,368.1 256.4,368.3 257.7,368.5 258.9,368.6 260.2,368.8 261.5,368.9 262.8,369.1 264,369.3 265.3,369.4 266.6,369.6 267.9,369.7 269.1,369.9 270.4,370.1 271.7,370.2 272.9,370.4 274.2,370.6 275.5,370.8 276.8,370.9 278,371.1 279.3,371.3 280.6,371.5 281.9,371.7 283.1,371.9 284.4,372.1 285.7,372.2 287,372.4 288.2,372.5 289.5,372.7 290.8,372.8 292,373 293.3,373.1 294.6,373.3 295.9,373.4 297.1,373.6 298.4,373.7 299.7,373.8 301,373.9 302.2,374.1 303.5,374.2 304.8,374.3 306.1,374.4 307.3,374.4 308.6,374.5 309.9,374.6 311.2,374.7 312.4,374.8 313.7,374.9 315,374.9 316.2,375 317.5,375.1 318.8,375.1 320.1,375.2 321.3,375.2 322.6,375.3 323.9,375.3 325.2,375.4 326.4,375.4 327.7,375.5 329,375.5 330.3,375.6 331.5,375.6 332.8,375.6 334.1,375.7 335.3,375.7 336.6,375.7 337.9,375.7 339.2,375.8 340.4,375.8 341.7,375.8 343,375.8 344.3,375.8 345.5,375.9 346.8,375.9 348.1,375.9 349.4,375.9 350.6,375.9 351.9,375.9 353.2,375.9 354.4,375.9" fill="none" stroke="#F04444" stroke-width="1.4" stroke-linejoin="round"/>
<polyline points="227.1,367.2 228.4,367.6 229.6,368 230.9,368.3 232.2,368.5 233.5,368.4 234.7,368 236,367.4 237.3,366.6 238.6,365.4 239.8,364.3 241.1,363.4 242.4,362.7 243.7,362.7 244.9,363.4 246.2,364.2 247.5,365.2 248.7,366.1 250,366.6 251.3,366.9 252.6,367.2 253.8,367.5 255.1,367.7 256.4,367.9 257.7,368.1 258.9,368.2 260.2,368.4 261.5,368.6 262.8,368.7 264,368.9 265.3,369.1 266.6,369.3 267.9,369.4 269.1,369.6 270.4,369.8 271.7,370 272.9,370.1 274.2,370.3 275.5,370.5 276.8,370.7 278,370.9 279.3,371.1 280.6,371.3 281.9,371.5 283.1,371.7 284.4,371.9 285.7,372 287,372.2 288.2,372.4 289.5,372.5 290.8,372.7 292,372.9 293.3,373 294.6,373.2 295.9,373.3 297.1,373.5 298.4,373.6 299.7,373.7 301,373.9 302.2,374 303.5,374.1 304.8,374.2 306.1,374.3 307.3,374.4 308.6,374.5 309.9,374.6 311.2,374.7 312.4,374.7 313.7,374.8 315,374.9 316.2,375 317.5,375 318.8,375.1 320.1,375.2 321.3,375.2 322.6,375.3 323.9,375.3 325.2,375.4 326.4,375.4 327.7,375.5 329,375.5 330.3,375.5 331.5,375.6 332.8,375.6 334.1,375.7 335.3,375.7 336.6,375.7 337.9,375.7 339.2,375.8 340.4,375.8 341.7,375.8 343,375.8 344.3,375.8 345.5,375.9 346.8,375.9 348.1,375.9 349.4,375.9 350.6,375.9 351.9,375.9 353.2,375.9 354.4,375.9" fill="none" stroke="#F040F0" stroke-width="1.4" stroke-linejoin="round"/>
<polyline points="227.1,366.1 228.4,366.6 229.6,367 230.9,367.4 232.2,367.6 233.5,367.6 234.7,367.2 236,366.6 237.3,365.9 238.6,364.7 239.8,363.5 241.1,362.6 242.4,361.9 243.7,362 244.9,362.7 246.2,363.5 247.5,364.6 248.7,365.5 250,366.1 251.3,366.4 252.6,366.8 253.8,367 255.1,367.2 256.4,367.5 257.7,367.7 258.9,367.8 260.2,368 261.5,368.2 262.8,368.4 264,368.6 265.3,368.7 266.6,368.9 267.9,369.1 269.1,369.3 270.4,369.5 271.7,369.7 272.9,369.9 274.2,370.1 275.5,370.3 276.8,370.5 278,370.7 279.3,370.9 280.6,371.1 281.9,371.3 283.1,371.5 284.4,371.7 285.7,371.9 287,372.1 288.2,372.2 289.5,372.4 290.8,372.6 292,372.7 293.3,372.9 294.6,373 295.9,373.2 297.1,373.4 298.4,373.5 299.7,373.6 301,373.8 302.2,373.9 303.5,374 304.8,374.1 306.1,374.2 307.3,374.3 308.6,374.4 309.9,374.5 311.2,374.6 312.4,374.7 313.7,374.8 315,374.8 316.2,374.9 317.5,375 318.8,375.1 320.1,375.1 321.3,375.2 322.6,375.2 323.9,375.3 325.2,375.3 326.4,375.4 327.7,375.4 329,375.5 330.3,375.5 331.5,375.6 332.8,375.6 334.1,375.6 335.3,375.7 336.6,375.7 337.9,375.7 339.2,375.7 340.4,375.8 341.7,375.8 343,375.8 344.3,375.8 345.5,375.8 346.8,375.9 348.1,375.9 349.4,375.9 350.6,375.9 351.9,375.9 353.2,375.9 354.4,375.9" fill="none" stroke="#F03084" stroke-width="1.4" stroke-linejoin="round"/>
<polyline points="227.1,364.4 228.4,365 229.6,365.6 230.9,366 232.2,366.4 233.5,366.4 234.7,366.1 236,365.6 237.3,364.9 238.6,363.7 239.8,362.5 241.1,361.6 242.4,360.9 243.7,361 244.9,361.8 246.2,362.7 247.5,363.8 248.7,364.9 250,365.4 251.3,365.9 252.6,366.2 253.8,366.5 255.1,366.7 256.4,367 257.7,367.2 258.9,367.4 260.2,367.6 261.5,367.8 262.8,368 264,368.2 265.3,368.4 266.6,368.6 267.9,368.8 269.1,369 270.4,369.2 271.7,369.4 272.9,369.6 274.2,369.8 275.5,370 276.8,370.2 278,370.4 279.3,370.7 280.6,370.9 281.9,371.1 283.1,371.3 284.4,371.5 285.7,371.7 287,371.9 288.2,372.1 289.5,372.2 290.8,372.4 292,372.6 293.3,372.8 294.6,372.9 295.9,373.1 297.1,373.2 298.4,373.4 299.7,373.5 301,373.7 302.2,373.8 303.5,373.9 304.8,374 306.1,374.1 307.3,374.2 308.6,374.3 309.9,374.4 311.2,374.5 312.4,374.6 313.7,374.7 315,374.8 316.2,374.9 317.5,375 318.8,375 320.1,375.1 321.3,375.1 322.6,375.2 323.9,375.3 325.2,375.3 326.4,375.4 327.7,375.4 329,375.5 330.3,375.5 331.5,375.5 332.8,375.6 334.1,375.6 335.3,375.7 336.6,375.7 337.9,375.7 339.2,375.7 340.4,375.8 341.7,375.8 343,375.8 344.3,375.8 345.5,375.8 346.8,375.9 348.1,375.9 349.4,375.9 350.6,375.9 351.9,375.9 353.2,375.9 354.4,375.9" fill="none" stroke="#3C3CE0" stroke-width="1.4" stroke-linejoin="round"/>
<polyline points="227.1,363.3 228.4,364.1 229.6,364.7 230.9,365.2 232.2,365.7 233.5,365.7 234.7,365.4 236,365 237.3,364.2 238.6,363 239.8,361.9 241.1,361 242.4,360.3 243.7,360.4 244.9,361.2 246.2,362.2 247.5,363.4 248.7,364.5 250,365 251.3,365.5 252.6,365.8 253.8,366.1 255.1,366.4 256.4,366.7 257.7,366.9 258.9,367.1 260.2,367.3 261.5,367.5 262.8,367.7 264,367.9 265.3,368.2 266.6,368.4 267.9,368.6 269.1,368.8 270.4,369 271.7,369.2 272.9,369.4 274.2,369.6 275.5,369.8 276.8,370.1 278,370.3 279.3,370.5 280.6,370.7 281.9,371 283.1,371.2 284.4,371.4 285.7,371.6 287,371.8 288.2,372 289.5,372.1 290.8,372.3 292,372.5 293.3,372.7 294.6,372.8 295.9,373 297.1,373.2 298.4,373.3 299.7,373.5 301,373.6 302.2,373.7 303.5,373.9 304.8,374 306.1,374.1 307.3,374.2 308.6,374.3 309.9,374.4 311.2,374.5 312.4,374.6 313.7,374.7 315,374.8 316.2,374.9 317.5,374.9 318.8,375 320.1,375.1 321.3,375.1 322.6,375.2 323.9,375.2 325.2,375.3 326.4,375.3 327.7,375.4 329,375.4 330.3,375.5 331.5,375.5 332.8,375.6 334.1,375.6 335.3,375.6 336.6,375.7 337.9,375.7 339.2,375.7 340.4,375.8 341.7,375.8 343,375.8 344.3,375.8 345.5,375.8 346.8,375.9 348.1,375.9 349.4,375.9 350.6,375.9 351.9,375.9 353.2,375.9 354.4,375.9" fill="none" stroke="#9848F0" stroke-width="1.4" stroke-linejoin="round"/>
<path d="M227.2,284.9V378.4H354.1" fill="none" stroke="#2a2a2a" stroke-width="1.2"/>
<path d="M227.1,378.4v2.2M248.3,378.4v2.2M269.6,378.4v2.2M290.8,378.4v2.2M312,378.4v2.2M333.2,378.4v2.2M354.4,378.4v2.2M237.7,378.4v1.4M258.9,378.4v1.4M280.2,378.4v1.4M301.4,378.4v1.4M322.6,378.4v1.4M343.8,378.4v1.4M227.2,376h-2.2M227.2,357.4h-2.2M227.2,338.8h-2.2M227.2,320.2h-2.2M227.2,301.6h-2.2M227.2,366.7h-1.4M227.2,348.1h-1.4M227.2,329.5h-1.4M227.2,310.9h-1.4M227.2,292.3h-1.4" fill="none" stroke="#2a2a2a" stroke-width="1"/>
<text x="227.1" y="388" font-size="7.6" text-anchor="middle" font-weight="bold">500</text>
<text x="248.3" y="388" font-size="7.6" text-anchor="middle" font-weight="bold">550</text>
<text x="269.6" y="388" font-size="7.6" text-anchor="middle" font-weight="bold">600</text>
<text x="290.8" y="388" font-size="7.6" text-anchor="middle" font-weight="bold">650</text>
<text x="312" y="388" font-size="7.6" text-anchor="middle" font-weight="bold">700</text>
<text x="333.2" y="388" font-size="7.6" text-anchor="middle" font-weight="bold">750</text>
<text x="224.6" y="378.6" font-size="7.6" text-anchor="end" font-weight="bold">0</text>
<text x="224.6" y="360" font-size="7.6" text-anchor="end" font-weight="bold">10</text>
<text x="224.6" y="341.4" font-size="7.6" text-anchor="end" font-weight="bold">20</text>
<text x="224.6" y="322.8" font-size="7.6" text-anchor="end" font-weight="bold">30</text>
<text x="224.6" y="304.2" font-size="7.6" text-anchor="end" font-weight="bold">40</text>
<text transform="translate(209.7,371.7) rotate(-90)" font-size="7.5" text-anchor="start" font-weight="bold">Fluorescence intensity</text>
<text x="290.2" y="396.8" font-size="7.6" text-anchor="middle" font-weight="bold">Wavelength / nm</text>
<text x="264.3" y="285.9" font-size="10.6" font-weight="bold">&#955;<tspan x="268.9" y="287.9" font-size="7.6">ex</tspan><tspan x="279.1" y="285.9">450 nm</tspan></text>
<text class="l" x="196.8" y="283" font-size="15" font-weight="normal">h)</text>
<text x="254" y="336.1" font-size="7.6" text-anchor="start" font-weight="bold">60.0 &#956;M</text>
<path d="M261.3,354.3V342.5" stroke="#1a1a1a" stroke-width="0.9"/>
<path d="M259.8,343.2L261.3,340L262.8,343.2Z" fill="#1a1a1a"/>
<text x="266" y="349" font-size="7.6" text-anchor="start" font-weight="bold">GSH</text>
<text x="257" y="361.2" font-size="7.6" text-anchor="start" font-weight="bold">0.0</text>
<path d="M418.1,374.6h2.2v2.6h-2.2zM420.1,368.4h2.2v2.6h-2.2zM422,362.9h2.2v2.6h-2.2zM424,357.9h2.2v2.6h-2.2zM425.9,353.2h2.2v2.6h-2.2zM427.9,345.6h2.2v2.6h-2.2zM429.8,340.9h2.2v2.6h-2.2zM431.8,336.8h2.2v2.6h-2.2zM433.7,332.6h2.2v2.6h-2.2zM435.7,328.8h2.2v2.6h-2.2zM437.6,325h2.2v2.6h-2.2zM447.4,317.7h2.2v2.6h-2.2zM457.2,308.2h2.2v2.6h-2.2zM476.7,297.8h2.2v2.6h-2.2zM496.2,296.5h2.2v2.6h-2.2zM515.8,292.4h2.2v2.6h-2.2zM535.3,290.8h2.2v2.6h-2.2z" fill="#1a1a1a"/>
<path d="M419.2,373.8V378M418.2,373.8h2M418.2,378h2M421.2,367.6V371.8M420.2,367.6h2M420.2,371.8h2M423.1,362.1V366.3M422.1,362.1h2M422.1,366.3h2M425.1,357.1V361.3M424.1,357.1h2M424.1,361.3h2M427,352.4V356.6M426,352.4h2M426,356.6h2M429,344.8V349M428,344.8h2M428,349h2M430.9,340.1V344.3M429.9,340.1h2M429.9,344.3h2M432.9,336V340.2M431.9,336h2M431.9,340.2h2M434.8,331.8V336M433.8,331.8h2M433.8,336h2M436.8,328V332.2M435.8,328h2M435.8,332.2h2M438.7,324.2V328.4M437.7,324.2h2M437.7,328.4h2M448.5,316.9V321.1M447.5,316.9h2M447.5,321.1h2M458.3,307.4V311.6M457.3,307.4h2M457.3,311.6h2M477.8,297V301.2M476.8,297h2M476.8,301.2h2M497.3,295.7V299.9M496.3,295.7h2M496.3,299.9h2M516.9,291.6V295.8M515.9,291.6h2M515.9,295.8h2M536.4,290V294.2M535.4,290h2M535.4,294.2h2" stroke="#1a1a1a" stroke-width="0.8" fill="none"/>
<path d="M417.5,285.5V378.3H544.4" fill="none" stroke="#2a2a2a" stroke-width="1.2"/>
<path d="M419.2,378.3v2.2M438.7,378.3v2.2M458.3,378.3v2.2M477.8,378.3v2.2M497.3,378.3v2.2M516.9,378.3v2.2M536.4,378.3v2.2M429,378.3v1.4M448.5,378.3v1.4M468,378.3v1.4M487.6,378.3v1.4M507.1,378.3v1.4M526.6,378.3v1.4M417.5,378.2h-2.2M417.5,358.5h-2.2M417.5,338.8h-2.2M417.5,319.2h-2.2M417.5,299.5h-2.2M417.5,368.4h-1.4M417.5,348.7h-1.4M417.5,329h-1.4M417.5,309.3h-1.4M417.5,289.6h-1.4" fill="none" stroke="#2a2a2a" stroke-width="1"/>
<text x="419.2" y="387.9" font-size="7.6" text-anchor="middle" font-weight="bold">0</text>
<text x="438.7" y="387.9" font-size="7.6" text-anchor="middle" font-weight="bold">10</text>
<text x="458.3" y="387.9" font-size="7.6" text-anchor="middle" font-weight="bold">20</text>
<text x="477.8" y="387.9" font-size="7.6" text-anchor="middle" font-weight="bold">30</text>
<text x="497.3" y="387.9" font-size="7.6" text-anchor="middle" font-weight="bold">40</text>
<text x="516.9" y="387.9" font-size="7.6" text-anchor="middle" font-weight="bold">50</text>
<text x="536.4" y="387.9" font-size="7.6" text-anchor="middle" font-weight="bold">60</text>
<text x="414.9" y="380.8" font-size="7.6" text-anchor="end" font-weight="bold">0</text>
<text x="414.9" y="361.1" font-size="7.6" text-anchor="end" font-weight="bold">200</text>
<text x="414.9" y="341.4" font-size="7.6" text-anchor="end" font-weight="bold">400</text>
<text x="414.9" y="321.7" font-size="7.6" text-anchor="end" font-weight="bold">600</text>
<text x="414.9" y="302.1" font-size="7.6" text-anchor="end" font-weight="bold">800</text>
<text transform="translate(398,371.7) rotate(-90)" font-size="7.5" text-anchor="start" font-weight="bold">Fluorescence intensity</text>
<text x="481" y="396.2" font-size="7.6" text-anchor="middle" font-weight="bold">GSH / &#956;M</text>
<text x="450.5" y="284.3" font-size="10.6" font-weight="bold">&#955;<tspan x="455.1" y="286.3" font-size="7.6">em</tspan><tspan x="467.3" y="284.3">470 nm</tspan></text>
<text class="l" x="389" y="283" font-size="15" font-weight="normal">i)</text>
<path d="M477.6,312.4V362.9H543.4" fill="none" stroke="#2a2a2a" stroke-width="1.0"/>
<path d="M481.6,362.9v1.5M497.2,362.9v1.5M512.9,362.9v1.5M528.6,362.9v1.5M489.4,362.9v1.0M505.1,362.9v1.0M520.7,362.9v1.0M536.4,362.9v1.0M477.6,361.9h-1.5M477.6,351.4h-1.5M477.6,340.9h-1.5M477.6,330.5h-1.5M477.6,320h-1.5M477.6,356.7h-1.0M477.6,346.2h-1.0M477.6,335.7h-1.0M477.6,325.2h-1.0" fill="none" stroke="#2a2a2a" stroke-width="1"/>
<text x="481.6" y="368.9" font-size="5.6" text-anchor="middle" font-weight="bold">0</text>
<text x="497.2" y="368.9" font-size="5.6" text-anchor="middle" font-weight="bold">2</text>
<text x="512.9" y="368.9" font-size="5.6" text-anchor="middle" font-weight="bold">4</text>
<text x="528.6" y="368.9" font-size="5.6" text-anchor="middle" font-weight="bold">6</text>
<text x="475.3" y="363.8" font-size="5.6" text-anchor="end" font-weight="bold">0</text>
<text x="475.3" y="353.3" font-size="5.6" text-anchor="end" font-weight="bold">100</text>
<text x="475.3" y="342.8" font-size="5.6" text-anchor="end" font-weight="bold">200</text>
<text x="475.3" y="332.4" font-size="5.6" text-anchor="end" font-weight="bold">300</text>
<text x="475.3" y="321.9" font-size="5.6" text-anchor="end" font-weight="bold">400</text>
<path d="M477.6,362.1L543.4,312.9" stroke="#F03838" stroke-width="1.1"/>
<path d="M480.8,358.7h1.6v1.6h-1.6zM488.6,352.2h1.6v1.6h-1.6zM496.4,346.4h1.6v1.6h-1.6zM504.3,340.7h1.6v1.6h-1.6zM512.1,335.7h1.6v1.6h-1.6zM519.9,327.8h1.6v1.6h-1.6zM527.8,323.6h1.6v1.6h-1.6zM535.6,318.9h1.6v1.6h-1.6z" fill="#222"/>
<text x="481" y="320.3" font-size="5.3" text-anchor="start" font-weight="bold">y=26.85+55.85x</text>
<text x="481" y="326.9" font-size="5.3" text-anchor="start" font-weight="bold">R<tspan font-size="3.8" dy="-2.2">2</tspan><tspan dy="2.2">=0.9987</tspan></text>
<text x="507.6" y="375.3" font-size="5.8" text-anchor="middle" font-weight="bold">GSH / &#956;M</text>
<text transform="translate(466.5,337) rotate(-90)" font-size="5.2" text-anchor="middle" font-weight="bold">Fluorescence intensity</text>
</svg></body></html>
